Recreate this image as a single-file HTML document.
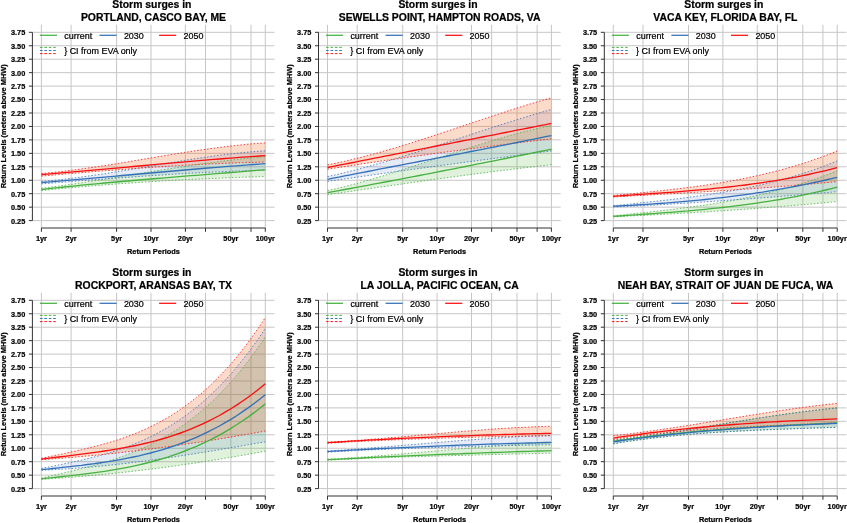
<!DOCTYPE html>
<html><head><meta charset="utf-8"><style>
html,body{margin:0;padding:0;background:#fff;width:847px;height:523px;overflow:hidden}
svg{display:block;will-change:transform}
text{font-family:"Liberation Sans",sans-serif;fill:#000;stroke:#000;stroke-width:0.22px}
.tl{font-size:7.35px;font-weight:bold}
.tl2{font-size:7.4px;font-weight:bold}
.tt{font-size:10.4px;font-weight:bold}
.lg{font-size:8.95px}
.gr{stroke:#c6c6c6;stroke-width:1;fill:none}
.ax{stroke:#333333;stroke-width:1;fill:none}
.ll{stroke-width:1.25}
.ld{stroke-width:0.95;stroke-dasharray:2.6 1.8}
.cl{fill:none;stroke-width:1.35}
.cd{fill:none;stroke-width:0.8;stroke-dasharray:1.5 1.85}
</style></head><body>
<svg width="847" height="523" viewBox="0 0 847 523">
<rect width="847" height="523" fill="#fff"/>
<g transform="translate(0,0)">
<line x1="41.4" y1="24.8" x2="41.4" y2="228" class="gr"/>
<line x1="71.08" y1="24.8" x2="71.08" y2="228" class="gr"/>
<line x1="116.58" y1="24.8" x2="116.58" y2="228" class="gr"/>
<line x1="150.99" y1="24.8" x2="150.99" y2="228" class="gr"/>
<line x1="185.4" y1="24.8" x2="185.4" y2="228" class="gr"/>
<line x1="205.53" y1="24.8" x2="205.53" y2="228" class="gr"/>
<line x1="230.9" y1="24.8" x2="230.9" y2="228" class="gr"/>
<line x1="251.03" y1="24.8" x2="251.03" y2="228" class="gr"/>
<line x1="265.31" y1="24.8" x2="265.31" y2="228" class="gr"/>
<line x1="32.4" y1="220.6" x2="274.6" y2="220.6" class="gr"/>
<line x1="32.4" y1="207.15" x2="274.6" y2="207.15" class="gr"/>
<line x1="32.4" y1="193.7" x2="274.6" y2="193.7" class="gr"/>
<line x1="32.4" y1="180.25" x2="274.6" y2="180.25" class="gr"/>
<line x1="32.4" y1="166.8" x2="274.6" y2="166.8" class="gr"/>
<line x1="32.4" y1="153.35" x2="274.6" y2="153.35" class="gr"/>
<line x1="32.4" y1="139.9" x2="274.6" y2="139.9" class="gr"/>
<line x1="32.4" y1="126.45" x2="274.6" y2="126.45" class="gr"/>
<line x1="32.4" y1="113" x2="274.6" y2="113" class="gr"/>
<line x1="32.4" y1="99.55" x2="274.6" y2="99.55" class="gr"/>
<line x1="32.4" y1="86.1" x2="274.6" y2="86.1" class="gr"/>
<line x1="32.4" y1="72.65" x2="274.6" y2="72.65" class="gr"/>
<line x1="32.4" y1="59.2" x2="274.6" y2="59.2" class="gr"/>
<line x1="32.4" y1="45.75" x2="274.6" y2="45.75" class="gr"/>
<line x1="32.4" y1="32.3" x2="274.6" y2="32.3" class="gr"/>
<path d="M41.4,188.3 L47.1,187.6 L52.9,186.8 L58.6,186.1 L64.4,185.3 L70.1,184.5 L75.8,183.6 L81.6,182.8 L87.3,181.9 L93.1,181.0 L98.8,180.1 L104.6,179.2 L110.3,178.3 L116.0,177.4 L121.8,176.4 L127.5,175.5 L133.3,174.5 L139.0,173.6 L144.7,172.7 L150.5,171.7 L156.2,170.8 L162.0,169.9 L167.7,169.0 L173.5,168.1 L179.2,167.2 L184.9,166.3 L190.7,165.5 L196.4,164.6 L202.2,163.8 L207.9,163.0 L213.6,162.3 L219.4,161.5 L225.1,160.8 L230.9,160.1 L236.6,159.4 L242.3,158.8 L248.1,158.2 L253.8,157.6 L259.6,157.1 L265.3,156.6 L265.3,176.5 L259.6,176.7 L253.8,176.9 L248.1,177.1 L242.3,177.3 L236.6,177.5 L230.9,177.7 L225.1,177.9 L219.4,178.2 L213.6,178.4 L207.9,178.6 L202.2,178.9 L196.4,179.2 L190.7,179.5 L184.9,179.7 L179.2,180.0 L173.5,180.4 L167.7,180.7 L162.0,181.0 L156.2,181.4 L150.5,181.7 L144.7,182.1 L139.0,182.4 L133.3,182.8 L127.5,183.2 L121.8,183.6 L116.0,184.0 L110.3,184.5 L104.6,184.9 L98.8,185.4 L93.1,185.8 L87.3,186.3 L81.6,186.8 L75.8,187.3 L70.1,187.8 L64.4,188.3 L58.6,188.9 L52.9,189.4 L47.1,190.0 L41.4,190.6Z" fill="rgba(80,180,50,0.17)" stroke="none"/>
<path d="M41.4,181.4 L47.1,180.9 L52.9,180.4 L58.6,179.8 L64.4,179.2 L70.1,178.5 L75.8,177.8 L81.6,177.0 L87.3,176.2 L93.1,175.4 L98.8,174.6 L104.6,173.7 L110.3,172.8 L116.0,171.9 L121.8,170.9 L127.5,170.0 L133.3,169.0 L139.0,168.0 L144.7,167.1 L150.5,166.1 L156.2,165.1 L162.0,164.1 L167.7,163.2 L173.5,162.2 L179.2,161.3 L184.9,160.3 L190.7,159.4 L196.4,158.6 L202.2,157.7 L207.9,156.9 L213.6,156.1 L219.4,155.3 L225.1,154.6 L230.9,153.9 L236.6,153.3 L242.3,152.7 L248.1,152.1 L253.8,151.6 L259.6,151.2 L265.3,150.8 L265.3,170.1 L259.6,170.3 L253.8,170.5 L248.1,170.6 L242.3,170.8 L236.6,171.1 L230.9,171.3 L225.1,171.5 L219.4,171.8 L213.6,172.1 L207.9,172.3 L202.2,172.6 L196.4,172.9 L190.7,173.2 L184.9,173.6 L179.2,173.9 L173.5,174.2 L167.7,174.6 L162.0,175.0 L156.2,175.3 L150.5,175.7 L144.7,176.1 L139.0,176.5 L133.3,176.9 L127.5,177.3 L121.8,177.7 L116.0,178.1 L110.3,178.5 L104.6,179.0 L98.8,179.4 L93.1,179.8 L87.3,180.3 L81.6,180.7 L75.8,181.2 L70.1,181.6 L64.4,182.1 L58.6,182.5 L52.9,183.0 L47.1,183.4 L41.4,183.9Z" fill="rgba(60,100,200,0.13)" stroke="none"/>
<path d="M41.4,173.5 L47.1,173.0 L52.9,172.4 L58.6,171.8 L64.4,171.1 L70.1,170.4 L75.8,169.7 L81.6,168.9 L87.3,168.1 L93.1,167.3 L98.8,166.5 L104.6,165.6 L110.3,164.7 L116.0,163.8 L121.8,162.8 L127.5,161.9 L133.3,160.9 L139.0,160.0 L144.7,159.0 L150.5,158.0 L156.2,157.1 L162.0,156.1 L167.7,155.2 L173.5,154.2 L179.2,153.3 L184.9,152.4 L190.7,151.5 L196.4,150.6 L202.2,149.8 L207.9,149.0 L213.6,148.2 L219.4,147.4 L225.1,146.7 L230.9,146.0 L236.6,145.4 L242.3,144.8 L248.1,144.2 L253.8,143.7 L259.6,143.3 L265.3,142.9 L265.3,162.1 L259.6,162.2 L253.8,162.4 L248.1,162.5 L242.3,162.7 L236.6,162.9 L230.9,163.1 L225.1,163.3 L219.4,163.6 L213.6,163.8 L207.9,164.1 L202.2,164.3 L196.4,164.6 L190.7,165.0 L184.9,165.3 L179.2,165.6 L173.5,165.9 L167.7,166.3 L162.0,166.7 L156.2,167.0 L150.5,167.4 L144.7,167.8 L139.0,168.2 L133.3,168.6 L127.5,169.1 L121.8,169.5 L116.0,169.9 L110.3,170.4 L104.6,170.8 L98.8,171.3 L93.1,171.7 L87.3,172.2 L81.6,172.7 L75.8,173.2 L70.1,173.6 L64.4,174.1 L58.6,174.6 L52.9,175.1 L47.1,175.6 L41.4,176.1Z" fill="rgba(240,90,20,0.22)" stroke="none"/>
<path d="M41.4,188.3 L47.1,187.6 L52.9,186.8 L58.6,186.1 L64.4,185.3 L70.1,184.5 L75.8,183.6 L81.6,182.8 L87.3,181.9 L93.1,181.0 L98.8,180.1 L104.6,179.2 L110.3,178.3 L116.0,177.4 L121.8,176.4 L127.5,175.5 L133.3,174.5 L139.0,173.6 L144.7,172.7 L150.5,171.7 L156.2,170.8 L162.0,169.9 L167.7,169.0 L173.5,168.1 L179.2,167.2 L184.9,166.3 L190.7,165.5 L196.4,164.6 L202.2,163.8 L207.9,163.0 L213.6,162.3 L219.4,161.5 L225.1,160.8 L230.9,160.1 L236.6,159.4 L242.3,158.8 L248.1,158.2 L253.8,157.6 L259.6,157.1 L265.3,156.6" stroke="#46b040" class="cd"/>
<path d="M41.4,190.6 L47.1,190.0 L52.9,189.4 L58.6,188.9 L64.4,188.3 L70.1,187.8 L75.8,187.3 L81.6,186.8 L87.3,186.3 L93.1,185.8 L98.8,185.4 L104.6,184.9 L110.3,184.5 L116.0,184.0 L121.8,183.6 L127.5,183.2 L133.3,182.8 L139.0,182.4 L144.7,182.1 L150.5,181.7 L156.2,181.4 L162.0,181.0 L167.7,180.7 L173.5,180.4 L179.2,180.0 L184.9,179.7 L190.7,179.5 L196.4,179.2 L202.2,178.9 L207.9,178.6 L213.6,178.4 L219.4,178.2 L225.1,177.9 L230.9,177.7 L236.6,177.5 L242.3,177.3 L248.1,177.1 L253.8,176.9 L259.6,176.7 L265.3,176.5" stroke="#46b040" class="cd"/>
<path d="M41.4,181.4 L47.1,180.9 L52.9,180.4 L58.6,179.8 L64.4,179.2 L70.1,178.5 L75.8,177.8 L81.6,177.0 L87.3,176.2 L93.1,175.4 L98.8,174.6 L104.6,173.7 L110.3,172.8 L116.0,171.9 L121.8,170.9 L127.5,170.0 L133.3,169.0 L139.0,168.0 L144.7,167.1 L150.5,166.1 L156.2,165.1 L162.0,164.1 L167.7,163.2 L173.5,162.2 L179.2,161.3 L184.9,160.3 L190.7,159.4 L196.4,158.6 L202.2,157.7 L207.9,156.9 L213.6,156.1 L219.4,155.3 L225.1,154.6 L230.9,153.9 L236.6,153.3 L242.3,152.7 L248.1,152.1 L253.8,151.6 L259.6,151.2 L265.3,150.8" stroke="#3370b8" class="cd"/>
<path d="M41.4,183.9 L47.1,183.4 L52.9,183.0 L58.6,182.5 L64.4,182.1 L70.1,181.6 L75.8,181.2 L81.6,180.7 L87.3,180.3 L93.1,179.8 L98.8,179.4 L104.6,179.0 L110.3,178.5 L116.0,178.1 L121.8,177.7 L127.5,177.3 L133.3,176.9 L139.0,176.5 L144.7,176.1 L150.5,175.7 L156.2,175.3 L162.0,175.0 L167.7,174.6 L173.5,174.2 L179.2,173.9 L184.9,173.6 L190.7,173.2 L196.4,172.9 L202.2,172.6 L207.9,172.3 L213.6,172.1 L219.4,171.8 L225.1,171.5 L230.9,171.3 L236.6,171.1 L242.3,170.8 L248.1,170.6 L253.8,170.5 L259.6,170.3 L265.3,170.1" stroke="#3370b8" class="cd"/>
<path d="M41.4,173.5 L47.1,173.0 L52.9,172.4 L58.6,171.8 L64.4,171.1 L70.1,170.4 L75.8,169.7 L81.6,168.9 L87.3,168.1 L93.1,167.3 L98.8,166.5 L104.6,165.6 L110.3,164.7 L116.0,163.8 L121.8,162.8 L127.5,161.9 L133.3,160.9 L139.0,160.0 L144.7,159.0 L150.5,158.0 L156.2,157.1 L162.0,156.1 L167.7,155.2 L173.5,154.2 L179.2,153.3 L184.9,152.4 L190.7,151.5 L196.4,150.6 L202.2,149.8 L207.9,149.0 L213.6,148.2 L219.4,147.4 L225.1,146.7 L230.9,146.0 L236.6,145.4 L242.3,144.8 L248.1,144.2 L253.8,143.7 L259.6,143.3 L265.3,142.9" stroke="#f81010" class="cd"/>
<path d="M41.4,176.1 L47.1,175.6 L52.9,175.1 L58.6,174.6 L64.4,174.1 L70.1,173.6 L75.8,173.2 L81.6,172.7 L87.3,172.2 L93.1,171.7 L98.8,171.3 L104.6,170.8 L110.3,170.4 L116.0,169.9 L121.8,169.5 L127.5,169.1 L133.3,168.6 L139.0,168.2 L144.7,167.8 L150.5,167.4 L156.2,167.0 L162.0,166.7 L167.7,166.3 L173.5,165.9 L179.2,165.6 L184.9,165.3 L190.7,165.0 L196.4,164.6 L202.2,164.3 L207.9,164.1 L213.6,163.8 L219.4,163.6 L225.1,163.3 L230.9,163.1 L236.6,162.9 L242.3,162.7 L248.1,162.5 L253.8,162.4 L259.6,162.2 L265.3,162.1" stroke="#f81010" class="cd"/>
<path d="M41.4,189.5 L47.1,188.9 L52.9,188.2 L58.6,187.6 L64.4,187.0 L70.1,186.4 L75.8,185.8 L81.6,185.2 L87.3,184.7 L93.1,184.1 L98.8,183.6 L104.6,183.0 L110.3,182.5 L116.0,182.0 L121.8,181.5 L127.5,181.0 L133.3,180.5 L139.0,180.0 L144.7,179.5 L150.5,179.0 L156.2,178.5 L162.0,178.1 L167.7,177.6 L173.5,177.1 L179.2,176.6 L184.9,176.2 L190.7,175.7 L196.4,175.3 L202.2,174.8 L207.9,174.4 L213.6,173.9 L219.4,173.4 L225.1,173.0 L230.9,172.5 L236.6,172.1 L242.3,171.6 L248.1,171.2 L253.8,170.7 L259.6,170.2 L265.3,169.8" stroke="#46b040" class="cl"/>
<path d="M41.4,182.5 L47.1,182.1 L52.9,181.6 L58.6,181.1 L64.4,180.6 L70.1,180.1 L75.8,179.6 L81.6,179.1 L87.3,178.6 L93.1,178.1 L98.8,177.6 L104.6,177.1 L110.3,176.6 L116.0,176.1 L121.8,175.5 L127.5,175.0 L133.3,174.5 L139.0,174.0 L144.7,173.5 L150.5,173.0 L156.2,172.5 L162.0,172.0 L167.7,171.5 L173.5,171.0 L179.2,170.5 L184.9,170.0 L190.7,169.5 L196.4,169.0 L202.2,168.5 L207.9,168.0 L213.6,167.6 L219.4,167.1 L225.1,166.6 L230.9,166.2 L236.6,165.8 L242.3,165.3 L248.1,164.9 L253.8,164.5 L259.6,164.1 L265.3,163.7" stroke="#3370b8" class="cl"/>
<path d="M41.4,174.6 L47.1,174.2 L52.9,173.7 L58.6,173.2 L64.4,172.7 L70.1,172.2 L75.8,171.7 L81.6,171.2 L87.3,170.7 L93.1,170.2 L98.8,169.7 L104.6,169.2 L110.3,168.6 L116.0,168.1 L121.8,167.6 L127.5,167.1 L133.3,166.5 L139.0,166.0 L144.7,165.5 L150.5,164.9 L156.2,164.4 L162.0,163.9 L167.7,163.4 L173.5,162.9 L179.2,162.3 L184.9,161.8 L190.7,161.3 L196.4,160.8 L202.2,160.4 L207.9,159.9 L213.6,159.4 L219.4,159.0 L225.1,158.5 L230.9,158.1 L236.6,157.6 L242.3,157.2 L248.1,156.8 L253.8,156.4 L259.6,156.0 L265.3,155.7" stroke="#f81010" class="cl"/>
<path d="M28.9,32.3H32.4V220.6H28.9" class="ax"/>
<line x1="28.9" y1="207.15" x2="32.4" y2="207.15" class="ax"/>
<line x1="28.9" y1="193.7" x2="32.4" y2="193.7" class="ax"/>
<line x1="28.9" y1="180.25" x2="32.4" y2="180.25" class="ax"/>
<line x1="28.9" y1="166.8" x2="32.4" y2="166.8" class="ax"/>
<line x1="28.9" y1="153.35" x2="32.4" y2="153.35" class="ax"/>
<line x1="28.9" y1="139.9" x2="32.4" y2="139.9" class="ax"/>
<line x1="28.9" y1="126.45" x2="32.4" y2="126.45" class="ax"/>
<line x1="28.9" y1="113" x2="32.4" y2="113" class="ax"/>
<line x1="28.9" y1="99.55" x2="32.4" y2="99.55" class="ax"/>
<line x1="28.9" y1="86.1" x2="32.4" y2="86.1" class="ax"/>
<line x1="28.9" y1="72.65" x2="32.4" y2="72.65" class="ax"/>
<line x1="28.9" y1="59.2" x2="32.4" y2="59.2" class="ax"/>
<line x1="28.9" y1="45.75" x2="32.4" y2="45.75" class="ax"/>
<path d="M41.4,231.8V228H265.31V231.8" class="ax"/>
<line x1="71.08" y1="228" x2="71.08" y2="231.8" class="ax"/>
<line x1="116.58" y1="228" x2="116.58" y2="231.8" class="ax"/>
<line x1="150.99" y1="228" x2="150.99" y2="231.8" class="ax"/>
<line x1="185.4" y1="228" x2="185.4" y2="231.8" class="ax"/>
<line x1="205.53" y1="228" x2="205.53" y2="231.8" class="ax"/>
<line x1="230.9" y1="228" x2="230.9" y2="231.8" class="ax"/>
<line x1="251.03" y1="228" x2="251.03" y2="231.8" class="ax"/>
<text x="25.3" y="223.5" class="tl" text-anchor="end">0.25</text>
<text x="25.3" y="210.05" class="tl" text-anchor="end">0.50</text>
<text x="25.3" y="196.6" class="tl" text-anchor="end">0.75</text>
<text x="25.3" y="183.15" class="tl" text-anchor="end">1.00</text>
<text x="25.3" y="169.7" class="tl" text-anchor="end">1.25</text>
<text x="25.3" y="156.25" class="tl" text-anchor="end">1.50</text>
<text x="25.3" y="142.8" class="tl" text-anchor="end">1.75</text>
<text x="25.3" y="129.35" class="tl" text-anchor="end">2.00</text>
<text x="25.3" y="115.9" class="tl" text-anchor="end">2.25</text>
<text x="25.3" y="102.45" class="tl" text-anchor="end">2.50</text>
<text x="25.3" y="89" class="tl" text-anchor="end">2.75</text>
<text x="25.3" y="75.55" class="tl" text-anchor="end">3.00</text>
<text x="25.3" y="62.1" class="tl" text-anchor="end">3.25</text>
<text x="25.3" y="48.65" class="tl" text-anchor="end">3.50</text>
<text x="25.3" y="35.2" class="tl" text-anchor="end">3.75</text>
<text x="41.4" y="240.6" class="tl" text-anchor="middle">1yr</text>
<text x="71.08" y="240.6" class="tl" text-anchor="middle">2yr</text>
<text x="116.58" y="240.6" class="tl" text-anchor="middle">5yr</text>
<text x="150.99" y="240.6" class="tl" text-anchor="middle">10yr</text>
<text x="185.4" y="240.6" class="tl" text-anchor="middle">20yr</text>
<text x="230.9" y="240.6" class="tl" text-anchor="middle">50yr</text>
<text x="265.31" y="240.6" class="tl" text-anchor="middle">100yr</text>
<text x="153.5" y="254.4" class="tl2" text-anchor="middle">Return Periods</text>
<text transform="translate(5.6,126.3) rotate(-90)" class="tl2" text-anchor="middle">Return Levels (meters above MHW)</text>
<text x="151.9" y="7.8" class="tt" text-anchor="middle">Storm surges in</text>
<text x="153.5" y="20.9" class="tt" text-anchor="middle">PORTLAND, CASCO BAY, ME</text>
<line x1="39.9" y1="35.3" x2="57" y2="35.3" stroke="#46b040" class="ll"/>
<text x="64.3" y="38.8" class="lg">current</text>
<line x1="99.5" y1="35.3" x2="116.6" y2="35.3" stroke="#3370b8" class="ll"/>
<text x="123.9" y="38.8" class="lg">2030</text>
<line x1="159.1" y1="35.3" x2="176.2" y2="35.3" stroke="#f81010" class="ll"/>
<text x="183.5" y="38.8" class="lg">2050</text>
<line x1="40.0" y1="47.4" x2="57.0" y2="47.4" stroke="#46b040" class="ld"/>
<line x1="40.0" y1="50.5" x2="57.0" y2="50.5" stroke="#3370b8" class="ld"/>
<line x1="40.0" y1="53.6" x2="57.0" y2="53.6" stroke="#f81010" class="ld"/>
<text x="64.2" y="53.9" class="lg">} CI from EVA only</text>
</g>
<g transform="translate(286.1,0)">
<line x1="41.4" y1="24.8" x2="41.4" y2="228" class="gr"/>
<line x1="71.08" y1="24.8" x2="71.08" y2="228" class="gr"/>
<line x1="116.58" y1="24.8" x2="116.58" y2="228" class="gr"/>
<line x1="150.99" y1="24.8" x2="150.99" y2="228" class="gr"/>
<line x1="185.4" y1="24.8" x2="185.4" y2="228" class="gr"/>
<line x1="205.53" y1="24.8" x2="205.53" y2="228" class="gr"/>
<line x1="230.9" y1="24.8" x2="230.9" y2="228" class="gr"/>
<line x1="251.03" y1="24.8" x2="251.03" y2="228" class="gr"/>
<line x1="265.31" y1="24.8" x2="265.31" y2="228" class="gr"/>
<line x1="32.4" y1="220.6" x2="274.6" y2="220.6" class="gr"/>
<line x1="32.4" y1="207.15" x2="274.6" y2="207.15" class="gr"/>
<line x1="32.4" y1="193.7" x2="274.6" y2="193.7" class="gr"/>
<line x1="32.4" y1="180.25" x2="274.6" y2="180.25" class="gr"/>
<line x1="32.4" y1="166.8" x2="274.6" y2="166.8" class="gr"/>
<line x1="32.4" y1="153.35" x2="274.6" y2="153.35" class="gr"/>
<line x1="32.4" y1="139.9" x2="274.6" y2="139.9" class="gr"/>
<line x1="32.4" y1="126.45" x2="274.6" y2="126.45" class="gr"/>
<line x1="32.4" y1="113" x2="274.6" y2="113" class="gr"/>
<line x1="32.4" y1="99.55" x2="274.6" y2="99.55" class="gr"/>
<line x1="32.4" y1="86.1" x2="274.6" y2="86.1" class="gr"/>
<line x1="32.4" y1="72.65" x2="274.6" y2="72.65" class="gr"/>
<line x1="32.4" y1="59.2" x2="274.6" y2="59.2" class="gr"/>
<line x1="32.4" y1="45.75" x2="274.6" y2="45.75" class="gr"/>
<line x1="32.4" y1="32.3" x2="274.6" y2="32.3" class="gr"/>
<path d="M41.4,190.6 L47.1,189.3 L52.9,188.0 L58.6,186.5 L64.4,185.1 L70.1,183.6 L75.8,182.0 L81.6,180.4 L87.3,178.7 L93.1,177.0 L98.8,175.3 L104.6,173.5 L110.3,171.7 L116.0,169.9 L121.8,168.0 L127.5,166.1 L133.3,164.3 L139.0,162.4 L144.7,160.5 L150.5,158.6 L156.2,156.7 L162.0,154.8 L167.7,152.9 L173.5,151.0 L179.2,149.1 L184.9,147.3 L190.7,145.5 L196.4,143.7 L202.2,141.9 L207.9,140.2 L213.6,138.5 L219.4,136.8 L225.1,135.2 L230.9,133.6 L236.6,132.1 L242.3,130.7 L248.1,129.3 L253.8,127.9 L259.6,126.6 L265.3,125.4 L265.3,164.7 L259.6,165.4 L253.8,166.0 L248.1,166.7 L242.3,167.3 L236.6,168.0 L230.9,168.7 L225.1,169.4 L219.4,170.1 L213.6,170.8 L207.9,171.5 L202.2,172.2 L196.4,173.0 L190.7,173.7 L184.9,174.5 L179.2,175.2 L173.5,176.0 L167.7,176.8 L162.0,177.6 L156.2,178.3 L150.5,179.1 L144.7,179.9 L139.0,180.7 L133.3,181.5 L127.5,182.3 L121.8,183.1 L116.0,184.0 L110.3,184.8 L104.6,185.6 L98.8,186.4 L93.1,187.2 L87.3,188.1 L81.6,188.9 L75.8,189.7 L70.1,190.5 L64.4,191.4 L58.6,192.2 L52.9,193.0 L47.1,193.8 L41.4,194.7Z" fill="rgba(80,180,50,0.17)" stroke="none"/>
<path d="M41.4,176.6 L47.1,175.3 L52.9,174.0 L58.6,172.6 L64.4,171.2 L70.1,169.7 L75.8,168.2 L81.6,166.6 L87.3,165.1 L93.1,163.4 L98.8,161.8 L104.6,160.1 L110.3,158.4 L116.0,156.6 L121.8,154.9 L127.5,153.1 L133.3,151.3 L139.0,149.4 L144.7,147.6 L150.5,145.7 L156.2,143.9 L162.0,142.0 L167.7,140.1 L173.5,138.2 L179.2,136.4 L184.9,134.5 L190.7,132.6 L196.4,130.7 L202.2,128.8 L207.9,127.0 L213.6,125.1 L219.4,123.3 L225.1,121.5 L230.9,119.7 L236.6,117.9 L242.3,116.1 L248.1,114.4 L253.8,112.7 L259.6,111.0 L265.3,109.4 L265.3,150.9 L259.6,151.7 L253.8,152.4 L248.1,153.2 L242.3,153.9 L236.6,154.6 L230.9,155.4 L225.1,156.1 L219.4,156.9 L213.6,157.7 L207.9,158.4 L202.2,159.2 L196.4,159.9 L190.7,160.7 L184.9,161.5 L179.2,162.2 L173.5,163.0 L167.7,163.8 L162.0,164.6 L156.2,165.3 L150.5,166.1 L144.7,166.9 L139.0,167.7 L133.3,168.5 L127.5,169.2 L121.8,170.0 L116.0,170.8 L110.3,171.6 L104.6,172.4 L98.8,173.2 L93.1,174.0 L87.3,174.8 L81.6,175.6 L75.8,176.5 L70.1,177.3 L64.4,178.1 L58.6,178.9 L52.9,179.7 L47.1,180.6 L41.4,181.4Z" fill="rgba(60,100,200,0.13)" stroke="none"/>
<path d="M41.4,164.9 L47.1,163.8 L52.9,162.5 L58.6,161.3 L64.4,159.9 L70.1,158.5 L75.8,157.1 L81.6,155.6 L87.3,154.1 L93.1,152.5 L98.8,150.8 L104.6,149.2 L110.3,147.5 L116.0,145.7 L121.8,143.9 L127.5,142.1 L133.3,140.3 L139.0,138.5 L144.7,136.6 L150.5,134.7 L156.2,132.8 L162.0,130.9 L167.7,129.0 L173.5,127.1 L179.2,125.1 L184.9,123.2 L190.7,121.3 L196.4,119.4 L202.2,117.4 L207.9,115.5 L213.6,113.7 L219.4,111.8 L225.1,109.9 L230.9,108.1 L236.6,106.3 L242.3,104.5 L248.1,102.8 L253.8,101.1 L259.6,99.4 L265.3,97.8 L265.3,138.9 L259.6,139.6 L253.8,140.2 L248.1,140.9 L242.3,141.6 L236.6,142.3 L230.9,143.0 L225.1,143.7 L219.4,144.4 L213.6,145.1 L207.9,145.8 L202.2,146.5 L196.4,147.3 L190.7,148.0 L184.9,148.7 L179.2,149.5 L173.5,150.2 L167.7,151.0 L162.0,151.7 L156.2,152.5 L150.5,153.3 L144.7,154.1 L139.0,154.9 L133.3,155.7 L127.5,156.5 L121.8,157.3 L116.0,158.1 L110.3,158.9 L104.6,159.7 L98.8,160.5 L93.1,161.4 L87.3,162.2 L81.6,163.1 L75.8,163.9 L70.1,164.8 L64.4,165.7 L58.6,166.6 L52.9,167.4 L47.1,168.3 L41.4,169.2Z" fill="rgba(240,90,20,0.22)" stroke="none"/>
<path d="M41.4,190.6 L47.1,189.3 L52.9,188.0 L58.6,186.5 L64.4,185.1 L70.1,183.6 L75.8,182.0 L81.6,180.4 L87.3,178.7 L93.1,177.0 L98.8,175.3 L104.6,173.5 L110.3,171.7 L116.0,169.9 L121.8,168.0 L127.5,166.1 L133.3,164.3 L139.0,162.4 L144.7,160.5 L150.5,158.6 L156.2,156.7 L162.0,154.8 L167.7,152.9 L173.5,151.0 L179.2,149.1 L184.9,147.3 L190.7,145.5 L196.4,143.7 L202.2,141.9 L207.9,140.2 L213.6,138.5 L219.4,136.8 L225.1,135.2 L230.9,133.6 L236.6,132.1 L242.3,130.7 L248.1,129.3 L253.8,127.9 L259.6,126.6 L265.3,125.4" stroke="#46b040" class="cd"/>
<path d="M41.4,194.7 L47.1,193.8 L52.9,193.0 L58.6,192.2 L64.4,191.4 L70.1,190.5 L75.8,189.7 L81.6,188.9 L87.3,188.1 L93.1,187.2 L98.8,186.4 L104.6,185.6 L110.3,184.8 L116.0,184.0 L121.8,183.1 L127.5,182.3 L133.3,181.5 L139.0,180.7 L144.7,179.9 L150.5,179.1 L156.2,178.3 L162.0,177.6 L167.7,176.8 L173.5,176.0 L179.2,175.2 L184.9,174.5 L190.7,173.7 L196.4,173.0 L202.2,172.2 L207.9,171.5 L213.6,170.8 L219.4,170.1 L225.1,169.4 L230.9,168.7 L236.6,168.0 L242.3,167.3 L248.1,166.7 L253.8,166.0 L259.6,165.4 L265.3,164.7" stroke="#46b040" class="cd"/>
<path d="M41.4,176.6 L47.1,175.3 L52.9,174.0 L58.6,172.6 L64.4,171.2 L70.1,169.7 L75.8,168.2 L81.6,166.6 L87.3,165.1 L93.1,163.4 L98.8,161.8 L104.6,160.1 L110.3,158.4 L116.0,156.6 L121.8,154.9 L127.5,153.1 L133.3,151.3 L139.0,149.4 L144.7,147.6 L150.5,145.7 L156.2,143.9 L162.0,142.0 L167.7,140.1 L173.5,138.2 L179.2,136.4 L184.9,134.5 L190.7,132.6 L196.4,130.7 L202.2,128.8 L207.9,127.0 L213.6,125.1 L219.4,123.3 L225.1,121.5 L230.9,119.7 L236.6,117.9 L242.3,116.1 L248.1,114.4 L253.8,112.7 L259.6,111.0 L265.3,109.4" stroke="#3370b8" class="cd"/>
<path d="M41.4,181.4 L47.1,180.6 L52.9,179.7 L58.6,178.9 L64.4,178.1 L70.1,177.3 L75.8,176.5 L81.6,175.6 L87.3,174.8 L93.1,174.0 L98.8,173.2 L104.6,172.4 L110.3,171.6 L116.0,170.8 L121.8,170.0 L127.5,169.2 L133.3,168.5 L139.0,167.7 L144.7,166.9 L150.5,166.1 L156.2,165.3 L162.0,164.6 L167.7,163.8 L173.5,163.0 L179.2,162.2 L184.9,161.5 L190.7,160.7 L196.4,159.9 L202.2,159.2 L207.9,158.4 L213.6,157.7 L219.4,156.9 L225.1,156.1 L230.9,155.4 L236.6,154.6 L242.3,153.9 L248.1,153.2 L253.8,152.4 L259.6,151.7 L265.3,150.9" stroke="#3370b8" class="cd"/>
<path d="M41.4,164.9 L47.1,163.8 L52.9,162.5 L58.6,161.3 L64.4,159.9 L70.1,158.5 L75.8,157.1 L81.6,155.6 L87.3,154.1 L93.1,152.5 L98.8,150.8 L104.6,149.2 L110.3,147.5 L116.0,145.7 L121.8,143.9 L127.5,142.1 L133.3,140.3 L139.0,138.5 L144.7,136.6 L150.5,134.7 L156.2,132.8 L162.0,130.9 L167.7,129.0 L173.5,127.1 L179.2,125.1 L184.9,123.2 L190.7,121.3 L196.4,119.4 L202.2,117.4 L207.9,115.5 L213.6,113.7 L219.4,111.8 L225.1,109.9 L230.9,108.1 L236.6,106.3 L242.3,104.5 L248.1,102.8 L253.8,101.1 L259.6,99.4 L265.3,97.8" stroke="#f81010" class="cd"/>
<path d="M41.4,169.2 L47.1,168.3 L52.9,167.4 L58.6,166.6 L64.4,165.7 L70.1,164.8 L75.8,163.9 L81.6,163.1 L87.3,162.2 L93.1,161.4 L98.8,160.5 L104.6,159.7 L110.3,158.9 L116.0,158.1 L121.8,157.3 L127.5,156.5 L133.3,155.7 L139.0,154.9 L144.7,154.1 L150.5,153.3 L156.2,152.5 L162.0,151.7 L167.7,151.0 L173.5,150.2 L179.2,149.5 L184.9,148.7 L190.7,148.0 L196.4,147.3 L202.2,146.5 L207.9,145.8 L213.6,145.1 L219.4,144.4 L225.1,143.7 L230.9,143.0 L236.6,142.3 L242.3,141.6 L248.1,140.9 L253.8,140.2 L259.6,139.6 L265.3,138.9" stroke="#f81010" class="cd"/>
<path d="M41.4,192.7 L47.1,191.6 L52.9,190.6 L58.6,189.5 L64.4,188.5 L70.1,187.4 L75.8,186.3 L81.6,185.3 L87.3,184.2 L93.1,183.1 L98.8,182.0 L104.6,181.0 L110.3,179.9 L116.0,178.8 L121.8,177.7 L127.5,176.6 L133.3,175.5 L139.0,174.4 L144.7,173.3 L150.5,172.1 L156.2,171.0 L162.0,169.9 L167.7,168.8 L173.5,167.6 L179.2,166.5 L184.9,165.4 L190.7,164.2 L196.4,163.1 L202.2,161.9 L207.9,160.8 L213.6,159.6 L219.4,158.5 L225.1,157.3 L230.9,156.2 L236.6,155.0 L242.3,153.8 L248.1,152.7 L253.8,151.5 L259.6,150.3 L265.3,149.1" stroke="#46b040" class="cl"/>
<path d="M41.4,179.3 L47.1,178.2 L52.9,177.1 L58.6,175.9 L64.4,174.8 L70.1,173.7 L75.8,172.6 L81.6,171.5 L87.3,170.3 L93.1,169.2 L98.8,168.1 L104.6,167.0 L110.3,165.9 L116.0,164.8 L121.8,163.7 L127.5,162.6 L133.3,161.5 L139.0,160.4 L144.7,159.3 L150.5,158.2 L156.2,157.1 L162.0,156.0 L167.7,154.9 L173.5,153.8 L179.2,152.7 L184.9,151.5 L190.7,150.4 L196.4,149.3 L202.2,148.2 L207.9,147.1 L213.6,145.9 L219.4,144.8 L225.1,143.7 L230.9,142.5 L236.6,141.4 L242.3,140.2 L248.1,139.1 L253.8,137.9 L259.6,136.7 L265.3,135.6" stroke="#3370b8" class="cl"/>
<path d="M41.4,167.5 L47.1,166.4 L52.9,165.2 L58.6,164.1 L64.4,163.0 L70.1,161.8 L75.8,160.7 L81.6,159.6 L87.3,158.4 L93.1,157.3 L98.8,156.2 L104.6,155.1 L110.3,153.9 L116.0,152.8 L121.8,151.7 L127.5,150.5 L133.3,149.4 L139.0,148.3 L144.7,147.2 L150.5,146.0 L156.2,144.9 L162.0,143.8 L167.7,142.7 L173.5,141.5 L179.2,140.4 L184.9,139.3 L190.7,138.1 L196.4,137.0 L202.2,135.9 L207.9,134.8 L213.6,133.6 L219.4,132.5 L225.1,131.4 L230.9,130.2 L236.6,129.1 L242.3,128.0 L248.1,126.8 L253.8,125.7 L259.6,124.6 L265.3,123.4" stroke="#f81010" class="cl"/>
<path d="M28.9,32.3H32.4V220.6H28.9" class="ax"/>
<line x1="28.9" y1="207.15" x2="32.4" y2="207.15" class="ax"/>
<line x1="28.9" y1="193.7" x2="32.4" y2="193.7" class="ax"/>
<line x1="28.9" y1="180.25" x2="32.4" y2="180.25" class="ax"/>
<line x1="28.9" y1="166.8" x2="32.4" y2="166.8" class="ax"/>
<line x1="28.9" y1="153.35" x2="32.4" y2="153.35" class="ax"/>
<line x1="28.9" y1="139.9" x2="32.4" y2="139.9" class="ax"/>
<line x1="28.9" y1="126.45" x2="32.4" y2="126.45" class="ax"/>
<line x1="28.9" y1="113" x2="32.4" y2="113" class="ax"/>
<line x1="28.9" y1="99.55" x2="32.4" y2="99.55" class="ax"/>
<line x1="28.9" y1="86.1" x2="32.4" y2="86.1" class="ax"/>
<line x1="28.9" y1="72.65" x2="32.4" y2="72.65" class="ax"/>
<line x1="28.9" y1="59.2" x2="32.4" y2="59.2" class="ax"/>
<line x1="28.9" y1="45.75" x2="32.4" y2="45.75" class="ax"/>
<path d="M41.4,231.8V228H265.31V231.8" class="ax"/>
<line x1="71.08" y1="228" x2="71.08" y2="231.8" class="ax"/>
<line x1="116.58" y1="228" x2="116.58" y2="231.8" class="ax"/>
<line x1="150.99" y1="228" x2="150.99" y2="231.8" class="ax"/>
<line x1="185.4" y1="228" x2="185.4" y2="231.8" class="ax"/>
<line x1="205.53" y1="228" x2="205.53" y2="231.8" class="ax"/>
<line x1="230.9" y1="228" x2="230.9" y2="231.8" class="ax"/>
<line x1="251.03" y1="228" x2="251.03" y2="231.8" class="ax"/>
<text x="25.3" y="223.5" class="tl" text-anchor="end">0.25</text>
<text x="25.3" y="210.05" class="tl" text-anchor="end">0.50</text>
<text x="25.3" y="196.6" class="tl" text-anchor="end">0.75</text>
<text x="25.3" y="183.15" class="tl" text-anchor="end">1.00</text>
<text x="25.3" y="169.7" class="tl" text-anchor="end">1.25</text>
<text x="25.3" y="156.25" class="tl" text-anchor="end">1.50</text>
<text x="25.3" y="142.8" class="tl" text-anchor="end">1.75</text>
<text x="25.3" y="129.35" class="tl" text-anchor="end">2.00</text>
<text x="25.3" y="115.9" class="tl" text-anchor="end">2.25</text>
<text x="25.3" y="102.45" class="tl" text-anchor="end">2.50</text>
<text x="25.3" y="89" class="tl" text-anchor="end">2.75</text>
<text x="25.3" y="75.55" class="tl" text-anchor="end">3.00</text>
<text x="25.3" y="62.1" class="tl" text-anchor="end">3.25</text>
<text x="25.3" y="48.65" class="tl" text-anchor="end">3.50</text>
<text x="25.3" y="35.2" class="tl" text-anchor="end">3.75</text>
<text x="41.4" y="240.6" class="tl" text-anchor="middle">1yr</text>
<text x="71.08" y="240.6" class="tl" text-anchor="middle">2yr</text>
<text x="116.58" y="240.6" class="tl" text-anchor="middle">5yr</text>
<text x="150.99" y="240.6" class="tl" text-anchor="middle">10yr</text>
<text x="185.4" y="240.6" class="tl" text-anchor="middle">20yr</text>
<text x="230.9" y="240.6" class="tl" text-anchor="middle">50yr</text>
<text x="265.31" y="240.6" class="tl" text-anchor="middle">100yr</text>
<text x="153.5" y="254.4" class="tl2" text-anchor="middle">Return Periods</text>
<text transform="translate(5.6,126.3) rotate(-90)" class="tl2" text-anchor="middle">Return Levels (meters above MHW)</text>
<text x="151.9" y="7.8" class="tt" text-anchor="middle">Storm surges in</text>
<text x="153.5" y="20.9" class="tt" text-anchor="middle">SEWELLS POINT, HAMPTON ROADS, VA</text>
<line x1="39.9" y1="35.3" x2="57" y2="35.3" stroke="#46b040" class="ll"/>
<text x="64.3" y="38.8" class="lg">current</text>
<line x1="99.5" y1="35.3" x2="116.6" y2="35.3" stroke="#3370b8" class="ll"/>
<text x="123.9" y="38.8" class="lg">2030</text>
<line x1="159.1" y1="35.3" x2="176.2" y2="35.3" stroke="#f81010" class="ll"/>
<text x="183.5" y="38.8" class="lg">2050</text>
<line x1="40.0" y1="47.4" x2="57.0" y2="47.4" stroke="#46b040" class="ld"/>
<line x1="40.0" y1="50.5" x2="57.0" y2="50.5" stroke="#3370b8" class="ld"/>
<line x1="40.0" y1="53.6" x2="57.0" y2="53.6" stroke="#f81010" class="ld"/>
<text x="64.2" y="53.9" class="lg">} CI from EVA only</text>
</g>
<g transform="translate(571.9,0)">
<line x1="41.4" y1="24.8" x2="41.4" y2="228" class="gr"/>
<line x1="71.08" y1="24.8" x2="71.08" y2="228" class="gr"/>
<line x1="116.58" y1="24.8" x2="116.58" y2="228" class="gr"/>
<line x1="150.99" y1="24.8" x2="150.99" y2="228" class="gr"/>
<line x1="185.4" y1="24.8" x2="185.4" y2="228" class="gr"/>
<line x1="205.53" y1="24.8" x2="205.53" y2="228" class="gr"/>
<line x1="230.9" y1="24.8" x2="230.9" y2="228" class="gr"/>
<line x1="251.03" y1="24.8" x2="251.03" y2="228" class="gr"/>
<line x1="265.31" y1="24.8" x2="265.31" y2="228" class="gr"/>
<line x1="32.4" y1="220.6" x2="274.6" y2="220.6" class="gr"/>
<line x1="32.4" y1="207.15" x2="274.6" y2="207.15" class="gr"/>
<line x1="32.4" y1="193.7" x2="274.6" y2="193.7" class="gr"/>
<line x1="32.4" y1="180.25" x2="274.6" y2="180.25" class="gr"/>
<line x1="32.4" y1="166.8" x2="274.6" y2="166.8" class="gr"/>
<line x1="32.4" y1="153.35" x2="274.6" y2="153.35" class="gr"/>
<line x1="32.4" y1="139.9" x2="274.6" y2="139.9" class="gr"/>
<line x1="32.4" y1="126.45" x2="274.6" y2="126.45" class="gr"/>
<line x1="32.4" y1="113" x2="274.6" y2="113" class="gr"/>
<line x1="32.4" y1="99.55" x2="274.6" y2="99.55" class="gr"/>
<line x1="32.4" y1="86.1" x2="274.6" y2="86.1" class="gr"/>
<line x1="32.4" y1="72.65" x2="274.6" y2="72.65" class="gr"/>
<line x1="32.4" y1="59.2" x2="274.6" y2="59.2" class="gr"/>
<line x1="32.4" y1="45.75" x2="274.6" y2="45.75" class="gr"/>
<line x1="32.4" y1="32.3" x2="274.6" y2="32.3" class="gr"/>
<path d="M41.4,215.8 L47.1,215.2 L52.9,214.6 L58.6,214.0 L64.4,213.4 L70.1,212.8 L75.8,212.2 L81.6,211.6 L87.3,210.9 L93.1,210.2 L98.8,209.6 L104.6,208.9 L110.3,208.1 L116.0,207.4 L121.8,206.6 L127.5,205.8 L133.3,205.0 L139.0,204.1 L144.7,203.2 L150.5,202.2 L156.2,201.2 L162.0,200.2 L167.7,199.1 L173.5,197.9 L179.2,196.7 L184.9,195.5 L190.7,194.2 L196.4,192.8 L202.2,191.4 L207.9,189.9 L213.6,188.3 L219.4,186.7 L225.1,185.0 L230.9,183.2 L236.6,181.3 L242.3,179.4 L248.1,177.4 L253.8,175.3 L259.6,173.1 L265.3,170.8 L265.3,201.6 L259.6,202.1 L253.8,202.7 L248.1,203.2 L242.3,203.7 L236.6,204.2 L230.9,204.7 L225.1,205.2 L219.4,205.7 L213.6,206.1 L207.9,206.6 L202.2,207.0 L196.4,207.5 L190.7,207.9 L184.9,208.4 L179.2,208.8 L173.5,209.2 L167.7,209.6 L162.0,210.0 L156.2,210.4 L150.5,210.8 L144.7,211.1 L139.0,211.5 L133.3,211.9 L127.5,212.2 L121.8,212.6 L116.0,212.9 L110.3,213.2 L104.6,213.6 L98.8,213.9 L93.1,214.2 L87.3,214.5 L81.6,214.8 L75.8,215.2 L70.1,215.5 L64.4,215.7 L58.6,216.0 L52.9,216.3 L47.1,216.6 L41.4,216.9Z" fill="rgba(80,180,50,0.17)" stroke="none"/>
<path d="M41.4,205.8 L47.1,205.2 L52.9,204.6 L58.6,204.0 L64.4,203.4 L70.1,202.7 L75.8,202.1 L81.6,201.5 L87.3,200.9 L93.1,200.2 L98.8,199.6 L104.6,198.9 L110.3,198.2 L116.0,197.4 L121.8,196.7 L127.5,195.9 L133.3,195.1 L139.0,194.2 L144.7,193.3 L150.5,192.4 L156.2,191.4 L162.0,190.4 L167.7,189.3 L173.5,188.2 L179.2,187.0 L184.9,185.8 L190.7,184.5 L196.4,183.1 L202.2,181.7 L207.9,180.2 L213.6,178.6 L219.4,177.0 L225.1,175.3 L230.9,173.5 L236.6,171.6 L242.3,169.7 L248.1,167.7 L253.8,165.5 L259.6,163.3 L265.3,161.0 L265.3,191.7 L259.6,192.2 L253.8,192.7 L248.1,193.2 L242.3,193.7 L236.6,194.1 L230.9,194.6 L225.1,195.1 L219.4,195.5 L213.6,196.0 L207.9,196.5 L202.2,196.9 L196.4,197.4 L190.7,197.8 L184.9,198.2 L179.2,198.7 L173.5,199.1 L167.7,199.5 L162.0,199.9 L156.2,200.3 L150.5,200.7 L144.7,201.1 L139.0,201.5 L133.3,201.9 L127.5,202.3 L121.8,202.7 L116.0,203.0 L110.3,203.4 L104.6,203.7 L98.8,204.1 L93.1,204.4 L87.3,204.8 L81.6,205.1 L75.8,205.4 L70.1,205.7 L64.4,206.0 L58.6,206.3 L52.9,206.6 L47.1,206.8 L41.4,207.1Z" fill="rgba(60,100,200,0.13)" stroke="none"/>
<path d="M41.4,195.4 L47.1,194.9 L52.9,194.4 L58.6,193.8 L64.4,193.3 L70.1,192.7 L75.8,192.1 L81.6,191.5 L87.3,190.9 L93.1,190.3 L98.8,189.6 L104.6,189.0 L110.3,188.3 L116.0,187.5 L121.8,186.8 L127.5,186.0 L133.3,185.2 L139.0,184.3 L144.7,183.4 L150.5,182.5 L156.2,181.5 L162.0,180.4 L167.7,179.4 L173.5,178.2 L179.2,177.0 L184.9,175.8 L190.7,174.5 L196.4,173.1 L202.2,171.7 L207.9,170.2 L213.6,168.6 L219.4,167.0 L225.1,165.3 L230.9,163.5 L236.6,161.6 L242.3,159.7 L248.1,157.6 L253.8,155.5 L259.6,153.3 L265.3,151.0 L265.3,181.6 L259.6,182.1 L253.8,182.7 L248.1,183.2 L242.3,183.7 L236.6,184.3 L230.9,184.8 L225.1,185.2 L219.4,185.7 L213.6,186.2 L207.9,186.6 L202.2,187.1 L196.4,187.5 L190.7,187.9 L184.9,188.3 L179.2,188.7 L173.5,189.1 L167.7,189.5 L162.0,189.9 L156.2,190.3 L150.5,190.7 L144.7,191.0 L139.0,191.4 L133.3,191.7 L127.5,192.1 L121.8,192.4 L116.0,192.8 L110.3,193.1 L104.6,193.4 L98.8,193.8 L93.1,194.1 L87.3,194.4 L81.6,194.7 L75.8,195.1 L70.1,195.4 L64.4,195.7 L58.6,196.0 L52.9,196.4 L47.1,196.7 L41.4,197.0Z" fill="rgba(240,90,20,0.22)" stroke="none"/>
<path d="M41.4,215.8 L47.1,215.2 L52.9,214.6 L58.6,214.0 L64.4,213.4 L70.1,212.8 L75.8,212.2 L81.6,211.6 L87.3,210.9 L93.1,210.2 L98.8,209.6 L104.6,208.9 L110.3,208.1 L116.0,207.4 L121.8,206.6 L127.5,205.8 L133.3,205.0 L139.0,204.1 L144.7,203.2 L150.5,202.2 L156.2,201.2 L162.0,200.2 L167.7,199.1 L173.5,197.9 L179.2,196.7 L184.9,195.5 L190.7,194.2 L196.4,192.8 L202.2,191.4 L207.9,189.9 L213.6,188.3 L219.4,186.7 L225.1,185.0 L230.9,183.2 L236.6,181.3 L242.3,179.4 L248.1,177.4 L253.8,175.3 L259.6,173.1 L265.3,170.8" stroke="#46b040" class="cd"/>
<path d="M41.4,216.9 L47.1,216.6 L52.9,216.3 L58.6,216.0 L64.4,215.7 L70.1,215.5 L75.8,215.2 L81.6,214.8 L87.3,214.5 L93.1,214.2 L98.8,213.9 L104.6,213.6 L110.3,213.2 L116.0,212.9 L121.8,212.6 L127.5,212.2 L133.3,211.9 L139.0,211.5 L144.7,211.1 L150.5,210.8 L156.2,210.4 L162.0,210.0 L167.7,209.6 L173.5,209.2 L179.2,208.8 L184.9,208.4 L190.7,207.9 L196.4,207.5 L202.2,207.0 L207.9,206.6 L213.6,206.1 L219.4,205.7 L225.1,205.2 L230.9,204.7 L236.6,204.2 L242.3,203.7 L248.1,203.2 L253.8,202.7 L259.6,202.1 L265.3,201.6" stroke="#46b040" class="cd"/>
<path d="M41.4,205.8 L47.1,205.2 L52.9,204.6 L58.6,204.0 L64.4,203.4 L70.1,202.7 L75.8,202.1 L81.6,201.5 L87.3,200.9 L93.1,200.2 L98.8,199.6 L104.6,198.9 L110.3,198.2 L116.0,197.4 L121.8,196.7 L127.5,195.9 L133.3,195.1 L139.0,194.2 L144.7,193.3 L150.5,192.4 L156.2,191.4 L162.0,190.4 L167.7,189.3 L173.5,188.2 L179.2,187.0 L184.9,185.8 L190.7,184.5 L196.4,183.1 L202.2,181.7 L207.9,180.2 L213.6,178.6 L219.4,177.0 L225.1,175.3 L230.9,173.5 L236.6,171.6 L242.3,169.7 L248.1,167.7 L253.8,165.5 L259.6,163.3 L265.3,161.0" stroke="#3370b8" class="cd"/>
<path d="M41.4,207.1 L47.1,206.8 L52.9,206.6 L58.6,206.3 L64.4,206.0 L70.1,205.7 L75.8,205.4 L81.6,205.1 L87.3,204.8 L93.1,204.4 L98.8,204.1 L104.6,203.7 L110.3,203.4 L116.0,203.0 L121.8,202.7 L127.5,202.3 L133.3,201.9 L139.0,201.5 L144.7,201.1 L150.5,200.7 L156.2,200.3 L162.0,199.9 L167.7,199.5 L173.5,199.1 L179.2,198.7 L184.9,198.2 L190.7,197.8 L196.4,197.4 L202.2,196.9 L207.9,196.5 L213.6,196.0 L219.4,195.5 L225.1,195.1 L230.9,194.6 L236.6,194.1 L242.3,193.7 L248.1,193.2 L253.8,192.7 L259.6,192.2 L265.3,191.7" stroke="#3370b8" class="cd"/>
<path d="M41.4,195.4 L47.1,194.9 L52.9,194.4 L58.6,193.8 L64.4,193.3 L70.1,192.7 L75.8,192.1 L81.6,191.5 L87.3,190.9 L93.1,190.3 L98.8,189.6 L104.6,189.0 L110.3,188.3 L116.0,187.5 L121.8,186.8 L127.5,186.0 L133.3,185.2 L139.0,184.3 L144.7,183.4 L150.5,182.5 L156.2,181.5 L162.0,180.4 L167.7,179.4 L173.5,178.2 L179.2,177.0 L184.9,175.8 L190.7,174.5 L196.4,173.1 L202.2,171.7 L207.9,170.2 L213.6,168.6 L219.4,167.0 L225.1,165.3 L230.9,163.5 L236.6,161.6 L242.3,159.7 L248.1,157.6 L253.8,155.5 L259.6,153.3 L265.3,151.0" stroke="#f81010" class="cd"/>
<path d="M41.4,197.0 L47.1,196.7 L52.9,196.4 L58.6,196.0 L64.4,195.7 L70.1,195.4 L75.8,195.1 L81.6,194.7 L87.3,194.4 L93.1,194.1 L98.8,193.8 L104.6,193.4 L110.3,193.1 L116.0,192.8 L121.8,192.4 L127.5,192.1 L133.3,191.7 L139.0,191.4 L144.7,191.0 L150.5,190.7 L156.2,190.3 L162.0,189.9 L167.7,189.5 L173.5,189.1 L179.2,188.7 L184.9,188.3 L190.7,187.9 L196.4,187.5 L202.2,187.1 L207.9,186.6 L213.6,186.2 L219.4,185.7 L225.1,185.2 L230.9,184.8 L236.6,184.3 L242.3,183.7 L248.1,183.2 L253.8,182.7 L259.6,182.1 L265.3,181.6" stroke="#f81010" class="cd"/>
<path d="M41.4,216.4 L47.1,216.0 L52.9,215.6 L58.6,215.2 L64.4,214.8 L70.1,214.4 L75.8,214.0 L81.6,213.6 L87.3,213.2 L93.1,212.7 L98.8,212.3 L104.6,211.8 L110.3,211.3 L116.0,210.9 L121.8,210.3 L127.5,209.8 L133.3,209.3 L139.0,208.7 L144.7,208.1 L150.5,207.5 L156.2,206.8 L162.0,206.1 L167.7,205.4 L173.5,204.7 L179.2,203.9 L184.9,203.1 L190.7,202.2 L196.4,201.3 L202.2,200.4 L207.9,199.5 L213.6,198.4 L219.4,197.4 L225.1,196.3 L230.9,195.1 L236.6,193.9 L242.3,192.7 L248.1,191.4 L253.8,190.0 L259.6,188.6 L265.3,187.2" stroke="#46b040" class="cl"/>
<path d="M41.4,206.2 L47.1,206.0 L52.9,205.7 L58.6,205.4 L64.4,205.0 L70.1,204.7 L75.8,204.3 L81.6,203.9 L87.3,203.5 L93.1,203.1 L98.8,202.7 L104.6,202.2 L110.3,201.7 L116.0,201.2 L121.8,200.6 L127.5,200.1 L133.3,199.5 L139.0,198.9 L144.7,198.2 L150.5,197.6 L156.2,196.9 L162.0,196.2 L167.7,195.4 L173.5,194.6 L179.2,193.8 L184.9,192.9 L190.7,192.1 L196.4,191.1 L202.2,190.2 L207.9,189.2 L213.6,188.2 L219.4,187.1 L225.1,186.0 L230.9,184.9 L236.6,183.7 L242.3,182.5 L248.1,181.3 L253.8,180.0 L259.6,178.6 L265.3,177.3" stroke="#3370b8" class="cl"/>
<path d="M41.4,196.3 L47.1,195.9 L52.9,195.5 L58.6,195.1 L64.4,194.7 L70.1,194.3 L75.8,193.9 L81.6,193.5 L87.3,193.1 L93.1,192.7 L98.8,192.3 L104.6,191.8 L110.3,191.4 L116.0,190.9 L121.8,190.4 L127.5,189.9 L133.3,189.4 L139.0,188.8 L144.7,188.2 L150.5,187.6 L156.2,187.0 L162.0,186.4 L167.7,185.7 L173.5,185.0 L179.2,184.2 L184.9,183.4 L190.7,182.6 L196.4,181.7 L202.2,180.8 L207.9,179.9 L213.6,178.9 L219.4,177.9 L225.1,176.8 L230.9,175.6 L236.6,174.5 L242.3,173.2 L248.1,171.9 L253.8,170.6 L259.6,169.2 L265.3,167.7" stroke="#f81010" class="cl"/>
<path d="M28.9,32.3H32.4V220.6H28.9" class="ax"/>
<line x1="28.9" y1="207.15" x2="32.4" y2="207.15" class="ax"/>
<line x1="28.9" y1="193.7" x2="32.4" y2="193.7" class="ax"/>
<line x1="28.9" y1="180.25" x2="32.4" y2="180.25" class="ax"/>
<line x1="28.9" y1="166.8" x2="32.4" y2="166.8" class="ax"/>
<line x1="28.9" y1="153.35" x2="32.4" y2="153.35" class="ax"/>
<line x1="28.9" y1="139.9" x2="32.4" y2="139.9" class="ax"/>
<line x1="28.9" y1="126.45" x2="32.4" y2="126.45" class="ax"/>
<line x1="28.9" y1="113" x2="32.4" y2="113" class="ax"/>
<line x1="28.9" y1="99.55" x2="32.4" y2="99.55" class="ax"/>
<line x1="28.9" y1="86.1" x2="32.4" y2="86.1" class="ax"/>
<line x1="28.9" y1="72.65" x2="32.4" y2="72.65" class="ax"/>
<line x1="28.9" y1="59.2" x2="32.4" y2="59.2" class="ax"/>
<line x1="28.9" y1="45.75" x2="32.4" y2="45.75" class="ax"/>
<path d="M41.4,231.8V228H265.31V231.8" class="ax"/>
<line x1="71.08" y1="228" x2="71.08" y2="231.8" class="ax"/>
<line x1="116.58" y1="228" x2="116.58" y2="231.8" class="ax"/>
<line x1="150.99" y1="228" x2="150.99" y2="231.8" class="ax"/>
<line x1="185.4" y1="228" x2="185.4" y2="231.8" class="ax"/>
<line x1="205.53" y1="228" x2="205.53" y2="231.8" class="ax"/>
<line x1="230.9" y1="228" x2="230.9" y2="231.8" class="ax"/>
<line x1="251.03" y1="228" x2="251.03" y2="231.8" class="ax"/>
<text x="25.3" y="223.5" class="tl" text-anchor="end">0.25</text>
<text x="25.3" y="210.05" class="tl" text-anchor="end">0.50</text>
<text x="25.3" y="196.6" class="tl" text-anchor="end">0.75</text>
<text x="25.3" y="183.15" class="tl" text-anchor="end">1.00</text>
<text x="25.3" y="169.7" class="tl" text-anchor="end">1.25</text>
<text x="25.3" y="156.25" class="tl" text-anchor="end">1.50</text>
<text x="25.3" y="142.8" class="tl" text-anchor="end">1.75</text>
<text x="25.3" y="129.35" class="tl" text-anchor="end">2.00</text>
<text x="25.3" y="115.9" class="tl" text-anchor="end">2.25</text>
<text x="25.3" y="102.45" class="tl" text-anchor="end">2.50</text>
<text x="25.3" y="89" class="tl" text-anchor="end">2.75</text>
<text x="25.3" y="75.55" class="tl" text-anchor="end">3.00</text>
<text x="25.3" y="62.1" class="tl" text-anchor="end">3.25</text>
<text x="25.3" y="48.65" class="tl" text-anchor="end">3.50</text>
<text x="25.3" y="35.2" class="tl" text-anchor="end">3.75</text>
<text x="41.4" y="240.6" class="tl" text-anchor="middle">1yr</text>
<text x="71.08" y="240.6" class="tl" text-anchor="middle">2yr</text>
<text x="116.58" y="240.6" class="tl" text-anchor="middle">5yr</text>
<text x="150.99" y="240.6" class="tl" text-anchor="middle">10yr</text>
<text x="185.4" y="240.6" class="tl" text-anchor="middle">20yr</text>
<text x="230.9" y="240.6" class="tl" text-anchor="middle">50yr</text>
<text x="265.31" y="240.6" class="tl" text-anchor="middle">100yr</text>
<text x="153.5" y="254.4" class="tl2" text-anchor="middle">Return Periods</text>
<text transform="translate(5.6,126.3) rotate(-90)" class="tl2" text-anchor="middle">Return Levels (meters above MHW)</text>
<text x="151.9" y="7.8" class="tt" text-anchor="middle">Storm surges in</text>
<text x="153.5" y="20.9" class="tt" text-anchor="middle">VACA KEY, FLORIDA BAY, FL</text>
<line x1="39.9" y1="35.3" x2="57" y2="35.3" stroke="#46b040" class="ll"/>
<text x="64.3" y="38.8" class="lg">current</text>
<line x1="99.5" y1="35.3" x2="116.6" y2="35.3" stroke="#3370b8" class="ll"/>
<text x="123.9" y="38.8" class="lg">2030</text>
<line x1="159.1" y1="35.3" x2="176.2" y2="35.3" stroke="#f81010" class="ll"/>
<text x="183.5" y="38.8" class="lg">2050</text>
<line x1="40.0" y1="47.4" x2="57.0" y2="47.4" stroke="#46b040" class="ld"/>
<line x1="40.0" y1="50.5" x2="57.0" y2="50.5" stroke="#3370b8" class="ld"/>
<line x1="40.0" y1="53.6" x2="57.0" y2="53.6" stroke="#f81010" class="ld"/>
<text x="64.2" y="53.9" class="lg">} CI from EVA only</text>
</g>
<g transform="translate(0,268)">
<line x1="41.4" y1="24.8" x2="41.4" y2="228" class="gr"/>
<line x1="71.08" y1="24.8" x2="71.08" y2="228" class="gr"/>
<line x1="116.58" y1="24.8" x2="116.58" y2="228" class="gr"/>
<line x1="150.99" y1="24.8" x2="150.99" y2="228" class="gr"/>
<line x1="185.4" y1="24.8" x2="185.4" y2="228" class="gr"/>
<line x1="205.53" y1="24.8" x2="205.53" y2="228" class="gr"/>
<line x1="230.9" y1="24.8" x2="230.9" y2="228" class="gr"/>
<line x1="251.03" y1="24.8" x2="251.03" y2="228" class="gr"/>
<line x1="265.31" y1="24.8" x2="265.31" y2="228" class="gr"/>
<line x1="32.4" y1="220.6" x2="274.6" y2="220.6" class="gr"/>
<line x1="32.4" y1="207.15" x2="274.6" y2="207.15" class="gr"/>
<line x1="32.4" y1="193.7" x2="274.6" y2="193.7" class="gr"/>
<line x1="32.4" y1="180.25" x2="274.6" y2="180.25" class="gr"/>
<line x1="32.4" y1="166.8" x2="274.6" y2="166.8" class="gr"/>
<line x1="32.4" y1="153.35" x2="274.6" y2="153.35" class="gr"/>
<line x1="32.4" y1="139.9" x2="274.6" y2="139.9" class="gr"/>
<line x1="32.4" y1="126.45" x2="274.6" y2="126.45" class="gr"/>
<line x1="32.4" y1="113" x2="274.6" y2="113" class="gr"/>
<line x1="32.4" y1="99.55" x2="274.6" y2="99.55" class="gr"/>
<line x1="32.4" y1="86.1" x2="274.6" y2="86.1" class="gr"/>
<line x1="32.4" y1="72.65" x2="274.6" y2="72.65" class="gr"/>
<line x1="32.4" y1="59.2" x2="274.6" y2="59.2" class="gr"/>
<line x1="32.4" y1="45.75" x2="274.6" y2="45.75" class="gr"/>
<line x1="32.4" y1="32.3" x2="274.6" y2="32.3" class="gr"/>
<path d="M41.4,210.1 L47.1,208.8 L52.9,207.4 L58.6,206.1 L64.4,204.8 L70.1,203.4 L75.8,202.0 L81.6,200.6 L87.3,199.1 L93.1,197.6 L98.8,196.0 L104.6,194.3 L110.3,192.5 L116.0,190.7 L121.8,188.7 L127.5,186.5 L133.3,184.3 L139.0,181.9 L144.7,179.3 L150.5,176.6 L156.2,173.7 L162.0,170.6 L167.7,167.3 L173.5,163.7 L179.2,160.0 L184.9,156.0 L190.7,151.7 L196.4,147.2 L202.2,142.5 L207.9,137.4 L213.6,132.1 L219.4,126.4 L225.1,120.5 L230.9,114.2 L236.6,107.5 L242.3,100.6 L248.1,93.2 L253.8,85.5 L259.6,77.4 L265.3,68.9 L265.3,183.1 L259.6,184.2 L253.8,185.2 L248.1,186.3 L242.3,187.3 L236.6,188.3 L230.9,189.3 L225.1,190.2 L219.4,191.2 L213.6,192.1 L207.9,193.0 L202.2,193.9 L196.4,194.8 L190.7,195.6 L184.9,196.5 L179.2,197.3 L173.5,198.1 L167.7,198.9 L162.0,199.7 L156.2,200.4 L150.5,201.1 L144.7,201.8 L139.0,202.5 L133.3,203.2 L127.5,203.9 L121.8,204.5 L116.0,205.1 L110.3,205.7 L104.6,206.3 L98.8,206.9 L93.1,207.4 L87.3,207.9 L81.6,208.4 L75.8,208.9 L70.1,209.3 L64.4,209.8 L58.6,210.2 L52.9,210.6 L47.1,211.0 L41.4,211.3Z" fill="rgba(80,180,50,0.17)" stroke="none"/>
<path d="M41.4,200.5 L47.1,199.3 L52.9,198.2 L58.6,197.0 L64.4,195.8 L70.1,194.6 L75.8,193.4 L81.6,192.1 L87.3,190.7 L93.1,189.3 L98.8,187.8 L104.6,186.2 L110.3,184.5 L116.0,182.6 L121.8,180.7 L127.5,178.6 L133.3,176.4 L139.0,174.0 L144.7,171.5 L150.5,168.7 L156.2,165.8 L162.0,162.7 L167.7,159.4 L173.5,155.9 L179.2,152.1 L184.9,148.1 L190.7,143.8 L196.4,139.3 L202.2,134.5 L207.9,129.4 L213.6,124.0 L219.4,118.3 L225.1,112.3 L230.9,106.0 L236.6,99.3 L242.3,92.3 L248.1,84.9 L253.8,77.1 L259.6,69.0 L265.3,60.5 L265.3,173.8 L259.6,174.8 L253.8,175.8 L248.1,176.8 L242.3,177.8 L236.6,178.8 L230.9,179.7 L225.1,180.7 L219.4,181.7 L213.6,182.6 L207.9,183.6 L202.2,184.5 L196.4,185.4 L190.7,186.3 L184.9,187.2 L179.2,188.1 L173.5,189.0 L167.7,189.8 L162.0,190.6 L156.2,191.4 L150.5,192.2 L144.7,193.0 L139.0,193.7 L133.3,194.5 L127.5,195.2 L121.8,195.8 L116.0,196.5 L110.3,197.1 L104.6,197.7 L98.8,198.3 L93.1,198.8 L87.3,199.3 L81.6,199.8 L75.8,200.2 L70.1,200.7 L64.4,201.0 L58.6,201.4 L52.9,201.7 L47.1,202.0 L41.4,202.2Z" fill="rgba(60,100,200,0.13)" stroke="none"/>
<path d="M41.4,190.4 L47.1,189.1 L52.9,187.9 L58.6,186.7 L64.4,185.5 L70.1,184.2 L75.8,183.0 L81.6,181.7 L87.3,180.3 L93.1,178.9 L98.8,177.4 L104.6,175.8 L110.3,174.2 L116.0,172.4 L121.8,170.5 L127.5,168.5 L133.3,166.3 L139.0,164.0 L144.7,161.5 L150.5,158.8 L156.2,155.9 L162.0,152.8 L167.7,149.6 L173.5,146.0 L179.2,142.3 L184.9,138.3 L190.7,134.0 L196.4,129.5 L202.2,124.7 L207.9,119.6 L213.6,114.1 L219.4,108.4 L225.1,102.3 L230.9,95.9 L236.6,89.1 L242.3,82.0 L248.1,74.4 L253.8,66.5 L259.6,58.2 L265.3,49.5 L265.3,163.0 L259.6,164.1 L253.8,165.1 L248.1,166.1 L242.3,167.1 L236.6,168.1 L230.9,169.1 L225.1,170.0 L219.4,171.0 L213.6,171.9 L207.9,172.8 L202.2,173.7 L196.4,174.6 L190.7,175.4 L184.9,176.3 L179.2,177.1 L173.5,177.9 L167.7,178.7 L162.0,179.5 L156.2,180.3 L150.5,181.0 L144.7,181.7 L139.0,182.4 L133.3,183.1 L127.5,183.8 L121.8,184.5 L116.0,185.1 L110.3,185.7 L104.6,186.3 L98.8,186.9 L93.1,187.5 L87.3,188.0 L81.6,188.5 L75.8,189.1 L70.1,189.5 L64.4,190.0 L58.6,190.4 L52.9,190.9 L47.1,191.3 L41.4,191.7Z" fill="rgba(240,90,20,0.22)" stroke="none"/>
<path d="M41.4,210.1 L47.1,208.8 L52.9,207.4 L58.6,206.1 L64.4,204.8 L70.1,203.4 L75.8,202.0 L81.6,200.6 L87.3,199.1 L93.1,197.6 L98.8,196.0 L104.6,194.3 L110.3,192.5 L116.0,190.7 L121.8,188.7 L127.5,186.5 L133.3,184.3 L139.0,181.9 L144.7,179.3 L150.5,176.6 L156.2,173.7 L162.0,170.6 L167.7,167.3 L173.5,163.7 L179.2,160.0 L184.9,156.0 L190.7,151.7 L196.4,147.2 L202.2,142.5 L207.9,137.4 L213.6,132.1 L219.4,126.4 L225.1,120.5 L230.9,114.2 L236.6,107.5 L242.3,100.6 L248.1,93.2 L253.8,85.5 L259.6,77.4 L265.3,68.9" stroke="#46b040" class="cd"/>
<path d="M41.4,211.3 L47.1,211.0 L52.9,210.6 L58.6,210.2 L64.4,209.8 L70.1,209.3 L75.8,208.9 L81.6,208.4 L87.3,207.9 L93.1,207.4 L98.8,206.9 L104.6,206.3 L110.3,205.7 L116.0,205.1 L121.8,204.5 L127.5,203.9 L133.3,203.2 L139.0,202.5 L144.7,201.8 L150.5,201.1 L156.2,200.4 L162.0,199.7 L167.7,198.9 L173.5,198.1 L179.2,197.3 L184.9,196.5 L190.7,195.6 L196.4,194.8 L202.2,193.9 L207.9,193.0 L213.6,192.1 L219.4,191.2 L225.1,190.2 L230.9,189.3 L236.6,188.3 L242.3,187.3 L248.1,186.3 L253.8,185.2 L259.6,184.2 L265.3,183.1" stroke="#46b040" class="cd"/>
<path d="M41.4,200.5 L47.1,199.3 L52.9,198.2 L58.6,197.0 L64.4,195.8 L70.1,194.6 L75.8,193.4 L81.6,192.1 L87.3,190.7 L93.1,189.3 L98.8,187.8 L104.6,186.2 L110.3,184.5 L116.0,182.6 L121.8,180.7 L127.5,178.6 L133.3,176.4 L139.0,174.0 L144.7,171.5 L150.5,168.7 L156.2,165.8 L162.0,162.7 L167.7,159.4 L173.5,155.9 L179.2,152.1 L184.9,148.1 L190.7,143.8 L196.4,139.3 L202.2,134.5 L207.9,129.4 L213.6,124.0 L219.4,118.3 L225.1,112.3 L230.9,106.0 L236.6,99.3 L242.3,92.3 L248.1,84.9 L253.8,77.1 L259.6,69.0 L265.3,60.5" stroke="#3370b8" class="cd"/>
<path d="M41.4,202.2 L47.1,202.0 L52.9,201.7 L58.6,201.4 L64.4,201.0 L70.1,200.7 L75.8,200.2 L81.6,199.8 L87.3,199.3 L93.1,198.8 L98.8,198.3 L104.6,197.7 L110.3,197.1 L116.0,196.5 L121.8,195.8 L127.5,195.2 L133.3,194.5 L139.0,193.7 L144.7,193.0 L150.5,192.2 L156.2,191.4 L162.0,190.6 L167.7,189.8 L173.5,189.0 L179.2,188.1 L184.9,187.2 L190.7,186.3 L196.4,185.4 L202.2,184.5 L207.9,183.6 L213.6,182.6 L219.4,181.7 L225.1,180.7 L230.9,179.7 L236.6,178.8 L242.3,177.8 L248.1,176.8 L253.8,175.8 L259.6,174.8 L265.3,173.8" stroke="#3370b8" class="cd"/>
<path d="M41.4,190.4 L47.1,189.1 L52.9,187.9 L58.6,186.7 L64.4,185.5 L70.1,184.2 L75.8,183.0 L81.6,181.7 L87.3,180.3 L93.1,178.9 L98.8,177.4 L104.6,175.8 L110.3,174.2 L116.0,172.4 L121.8,170.5 L127.5,168.5 L133.3,166.3 L139.0,164.0 L144.7,161.5 L150.5,158.8 L156.2,155.9 L162.0,152.8 L167.7,149.6 L173.5,146.0 L179.2,142.3 L184.9,138.3 L190.7,134.0 L196.4,129.5 L202.2,124.7 L207.9,119.6 L213.6,114.1 L219.4,108.4 L225.1,102.3 L230.9,95.9 L236.6,89.1 L242.3,82.0 L248.1,74.4 L253.8,66.5 L259.6,58.2 L265.3,49.5" stroke="#f81010" class="cd"/>
<path d="M41.4,191.7 L47.1,191.3 L52.9,190.9 L58.6,190.4 L64.4,190.0 L70.1,189.5 L75.8,189.1 L81.6,188.5 L87.3,188.0 L93.1,187.5 L98.8,186.9 L104.6,186.3 L110.3,185.7 L116.0,185.1 L121.8,184.5 L127.5,183.8 L133.3,183.1 L139.0,182.4 L144.7,181.7 L150.5,181.0 L156.2,180.3 L162.0,179.5 L167.7,178.7 L173.5,177.9 L179.2,177.1 L184.9,176.3 L190.7,175.4 L196.4,174.6 L202.2,173.7 L207.9,172.8 L213.6,171.9 L219.4,171.0 L225.1,170.0 L230.9,169.1 L236.6,168.1 L242.3,167.1 L248.1,166.1 L253.8,165.1 L259.6,164.1 L265.3,163.0" stroke="#f81010" class="cd"/>
<path d="M41.4,210.9 L47.1,210.2 L52.9,209.6 L58.6,209.0 L64.4,208.4 L70.1,207.7 L75.8,207.1 L81.6,206.4 L87.3,205.7 L93.1,204.9 L98.8,204.1 L104.6,203.3 L110.3,202.4 L116.0,201.4 L121.8,200.4 L127.5,199.3 L133.3,198.1 L139.0,196.8 L144.7,195.5 L150.5,194.0 L156.2,192.5 L162.0,190.8 L167.7,189.1 L173.5,187.2 L179.2,185.2 L184.9,183.0 L190.7,180.7 L196.4,178.3 L202.2,175.7 L207.9,173.0 L213.6,170.1 L219.4,167.1 L225.1,163.8 L230.9,160.4 L236.6,156.8 L242.3,153.0 L248.1,149.1 L253.8,144.9 L259.6,140.5 L265.3,135.9" stroke="#46b040" class="cl"/>
<path d="M41.4,201.7 L47.1,201.1 L52.9,200.5 L58.6,199.8 L64.4,199.2 L70.1,198.6 L75.8,197.9 L81.6,197.3 L87.3,196.5 L93.1,195.8 L98.8,195.0 L104.6,194.2 L110.3,193.3 L116.0,192.3 L121.8,191.3 L127.5,190.2 L133.3,189.0 L139.0,187.8 L144.7,186.4 L150.5,185.0 L156.2,183.4 L162.0,181.8 L167.7,180.0 L173.5,178.1 L179.2,176.1 L184.9,174.0 L190.7,171.7 L196.4,169.3 L202.2,166.7 L207.9,163.9 L213.6,161.0 L219.4,158.0 L225.1,154.7 L230.9,151.3 L236.6,147.7 L242.3,143.9 L248.1,139.9 L253.8,135.7 L259.6,131.3 L265.3,126.7" stroke="#3370b8" class="cl"/>
<path d="M41.4,191.2 L47.1,190.4 L52.9,189.7 L58.6,189.0 L64.4,188.3 L70.1,187.6 L75.8,186.9 L81.6,186.2 L87.3,185.4 L93.1,184.7 L98.8,183.9 L104.6,183.0 L110.3,182.1 L116.0,181.2 L121.8,180.2 L127.5,179.1 L133.3,178.0 L139.0,176.8 L144.7,175.5 L150.5,174.1 L156.2,172.6 L162.0,171.0 L167.7,169.3 L173.5,167.4 L179.2,165.5 L184.9,163.4 L190.7,161.1 L196.4,158.7 L202.2,156.1 L207.9,153.4 L213.6,150.5 L219.4,147.5 L225.1,144.2 L230.9,140.8 L236.6,137.1 L242.3,133.3 L248.1,129.2 L253.8,125.0 L259.6,120.5 L265.3,115.7" stroke="#f81010" class="cl"/>
<path d="M28.9,32.3H32.4V220.6H28.9" class="ax"/>
<line x1="28.9" y1="207.15" x2="32.4" y2="207.15" class="ax"/>
<line x1="28.9" y1="193.7" x2="32.4" y2="193.7" class="ax"/>
<line x1="28.9" y1="180.25" x2="32.4" y2="180.25" class="ax"/>
<line x1="28.9" y1="166.8" x2="32.4" y2="166.8" class="ax"/>
<line x1="28.9" y1="153.35" x2="32.4" y2="153.35" class="ax"/>
<line x1="28.9" y1="139.9" x2="32.4" y2="139.9" class="ax"/>
<line x1="28.9" y1="126.45" x2="32.4" y2="126.45" class="ax"/>
<line x1="28.9" y1="113" x2="32.4" y2="113" class="ax"/>
<line x1="28.9" y1="99.55" x2="32.4" y2="99.55" class="ax"/>
<line x1="28.9" y1="86.1" x2="32.4" y2="86.1" class="ax"/>
<line x1="28.9" y1="72.65" x2="32.4" y2="72.65" class="ax"/>
<line x1="28.9" y1="59.2" x2="32.4" y2="59.2" class="ax"/>
<line x1="28.9" y1="45.75" x2="32.4" y2="45.75" class="ax"/>
<path d="M41.4,231.8V228H265.31V231.8" class="ax"/>
<line x1="71.08" y1="228" x2="71.08" y2="231.8" class="ax"/>
<line x1="116.58" y1="228" x2="116.58" y2="231.8" class="ax"/>
<line x1="150.99" y1="228" x2="150.99" y2="231.8" class="ax"/>
<line x1="185.4" y1="228" x2="185.4" y2="231.8" class="ax"/>
<line x1="205.53" y1="228" x2="205.53" y2="231.8" class="ax"/>
<line x1="230.9" y1="228" x2="230.9" y2="231.8" class="ax"/>
<line x1="251.03" y1="228" x2="251.03" y2="231.8" class="ax"/>
<text x="25.3" y="223.5" class="tl" text-anchor="end">0.25</text>
<text x="25.3" y="210.05" class="tl" text-anchor="end">0.50</text>
<text x="25.3" y="196.6" class="tl" text-anchor="end">0.75</text>
<text x="25.3" y="183.15" class="tl" text-anchor="end">1.00</text>
<text x="25.3" y="169.7" class="tl" text-anchor="end">1.25</text>
<text x="25.3" y="156.25" class="tl" text-anchor="end">1.50</text>
<text x="25.3" y="142.8" class="tl" text-anchor="end">1.75</text>
<text x="25.3" y="129.35" class="tl" text-anchor="end">2.00</text>
<text x="25.3" y="115.9" class="tl" text-anchor="end">2.25</text>
<text x="25.3" y="102.45" class="tl" text-anchor="end">2.50</text>
<text x="25.3" y="89" class="tl" text-anchor="end">2.75</text>
<text x="25.3" y="75.55" class="tl" text-anchor="end">3.00</text>
<text x="25.3" y="62.1" class="tl" text-anchor="end">3.25</text>
<text x="25.3" y="48.65" class="tl" text-anchor="end">3.50</text>
<text x="25.3" y="35.2" class="tl" text-anchor="end">3.75</text>
<text x="41.4" y="240.6" class="tl" text-anchor="middle">1yr</text>
<text x="71.08" y="240.6" class="tl" text-anchor="middle">2yr</text>
<text x="116.58" y="240.6" class="tl" text-anchor="middle">5yr</text>
<text x="150.99" y="240.6" class="tl" text-anchor="middle">10yr</text>
<text x="185.4" y="240.6" class="tl" text-anchor="middle">20yr</text>
<text x="230.9" y="240.6" class="tl" text-anchor="middle">50yr</text>
<text x="265.31" y="240.6" class="tl" text-anchor="middle">100yr</text>
<text x="153.5" y="254.4" class="tl2" text-anchor="middle">Return Periods</text>
<text transform="translate(5.6,126.3) rotate(-90)" class="tl2" text-anchor="middle">Return Levels (meters above MHW)</text>
<text x="151.9" y="7.8" class="tt" text-anchor="middle">Storm surges in</text>
<text x="153.5" y="20.9" class="tt" text-anchor="middle">ROCKPORT, ARANSAS BAY, TX</text>
<line x1="39.9" y1="35.3" x2="57" y2="35.3" stroke="#46b040" class="ll"/>
<text x="64.3" y="38.8" class="lg">current</text>
<line x1="99.5" y1="35.3" x2="116.6" y2="35.3" stroke="#3370b8" class="ll"/>
<text x="123.9" y="38.8" class="lg">2030</text>
<line x1="159.1" y1="35.3" x2="176.2" y2="35.3" stroke="#f81010" class="ll"/>
<text x="183.5" y="38.8" class="lg">2050</text>
<line x1="40.0" y1="47.4" x2="57.0" y2="47.4" stroke="#46b040" class="ld"/>
<line x1="40.0" y1="50.5" x2="57.0" y2="50.5" stroke="#3370b8" class="ld"/>
<line x1="40.0" y1="53.6" x2="57.0" y2="53.6" stroke="#f81010" class="ld"/>
<text x="64.2" y="53.9" class="lg">} CI from EVA only</text>
</g>
<g transform="translate(286.1,268)">
<line x1="41.4" y1="24.8" x2="41.4" y2="228" class="gr"/>
<line x1="71.08" y1="24.8" x2="71.08" y2="228" class="gr"/>
<line x1="116.58" y1="24.8" x2="116.58" y2="228" class="gr"/>
<line x1="150.99" y1="24.8" x2="150.99" y2="228" class="gr"/>
<line x1="185.4" y1="24.8" x2="185.4" y2="228" class="gr"/>
<line x1="205.53" y1="24.8" x2="205.53" y2="228" class="gr"/>
<line x1="230.9" y1="24.8" x2="230.9" y2="228" class="gr"/>
<line x1="251.03" y1="24.8" x2="251.03" y2="228" class="gr"/>
<line x1="265.31" y1="24.8" x2="265.31" y2="228" class="gr"/>
<line x1="32.4" y1="220.6" x2="274.6" y2="220.6" class="gr"/>
<line x1="32.4" y1="207.15" x2="274.6" y2="207.15" class="gr"/>
<line x1="32.4" y1="193.7" x2="274.6" y2="193.7" class="gr"/>
<line x1="32.4" y1="180.25" x2="274.6" y2="180.25" class="gr"/>
<line x1="32.4" y1="166.8" x2="274.6" y2="166.8" class="gr"/>
<line x1="32.4" y1="153.35" x2="274.6" y2="153.35" class="gr"/>
<line x1="32.4" y1="139.9" x2="274.6" y2="139.9" class="gr"/>
<line x1="32.4" y1="126.45" x2="274.6" y2="126.45" class="gr"/>
<line x1="32.4" y1="113" x2="274.6" y2="113" class="gr"/>
<line x1="32.4" y1="99.55" x2="274.6" y2="99.55" class="gr"/>
<line x1="32.4" y1="86.1" x2="274.6" y2="86.1" class="gr"/>
<line x1="32.4" y1="72.65" x2="274.6" y2="72.65" class="gr"/>
<line x1="32.4" y1="59.2" x2="274.6" y2="59.2" class="gr"/>
<line x1="32.4" y1="45.75" x2="274.6" y2="45.75" class="gr"/>
<line x1="32.4" y1="32.3" x2="274.6" y2="32.3" class="gr"/>
<path d="M41.4,191.2 L47.1,190.9 L52.9,190.6 L58.6,190.2 L64.4,189.9 L70.1,189.5 L75.8,189.1 L81.6,188.7 L87.3,188.3 L93.1,187.8 L98.8,187.4 L104.6,186.9 L110.3,186.4 L116.0,185.9 L121.8,185.4 L127.5,184.9 L133.3,184.4 L139.0,183.9 L144.7,183.4 L150.5,182.9 L156.2,182.4 L162.0,181.9 L167.7,181.4 L173.5,180.9 L179.2,180.4 L184.9,179.9 L190.7,179.5 L196.4,179.0 L202.2,178.5 L207.9,178.1 L213.6,177.7 L219.4,177.3 L225.1,176.9 L230.9,176.5 L236.6,176.2 L242.3,175.8 L248.1,175.5 L253.8,175.2 L259.6,175.0 L265.3,174.7 L265.3,185.1 L259.6,185.3 L253.8,185.4 L248.1,185.6 L242.3,185.7 L236.6,185.8 L230.9,186.0 L225.1,186.1 L219.4,186.3 L213.6,186.4 L207.9,186.5 L202.2,186.7 L196.4,186.8 L190.7,187.0 L184.9,187.1 L179.2,187.3 L173.5,187.4 L167.7,187.6 L162.0,187.7 L156.2,187.9 L150.5,188.0 L144.7,188.2 L139.0,188.4 L133.3,188.5 L127.5,188.7 L121.8,188.9 L116.0,189.1 L110.3,189.3 L104.6,189.5 L98.8,189.7 L93.1,189.9 L87.3,190.1 L81.6,190.4 L75.8,190.6 L70.1,190.8 L64.4,191.1 L58.6,191.4 L52.9,191.6 L47.1,191.9 L41.4,192.2Z" fill="rgba(80,180,50,0.17)" stroke="none"/>
<path d="M41.4,183.0 L47.1,182.6 L52.9,182.3 L58.6,181.9 L64.4,181.5 L70.1,181.1 L75.8,180.7 L81.6,180.2 L87.3,179.8 L93.1,179.3 L98.8,178.9 L104.6,178.4 L110.3,177.9 L116.0,177.4 L121.8,176.9 L127.5,176.5 L133.3,176.0 L139.0,175.5 L144.7,175.0 L150.5,174.5 L156.2,174.1 L162.0,173.6 L167.7,173.1 L173.5,172.7 L179.2,172.2 L184.9,171.8 L190.7,171.4 L196.4,171.0 L202.2,170.6 L207.9,170.2 L213.6,169.8 L219.4,169.5 L225.1,169.1 L230.9,168.8 L236.6,168.5 L242.3,168.3 L248.1,168.0 L253.8,167.8 L259.6,167.6 L265.3,167.5 L265.3,176.7 L259.6,176.8 L253.8,176.9 L248.1,177.1 L242.3,177.2 L236.6,177.3 L230.9,177.4 L225.1,177.5 L219.4,177.7 L213.6,177.8 L207.9,177.9 L202.2,178.1 L196.4,178.2 L190.7,178.3 L184.9,178.5 L179.2,178.6 L173.5,178.8 L167.7,179.0 L162.0,179.1 L156.2,179.3 L150.5,179.5 L144.7,179.6 L139.0,179.8 L133.3,180.0 L127.5,180.2 L121.8,180.4 L116.0,180.6 L110.3,180.8 L104.6,181.1 L98.8,181.3 L93.1,181.5 L87.3,181.8 L81.6,182.0 L75.8,182.3 L70.1,182.6 L64.4,182.9 L58.6,183.2 L52.9,183.5 L47.1,183.8 L41.4,184.1Z" fill="rgba(60,100,200,0.13)" stroke="none"/>
<path d="M41.4,174.1 L47.1,173.8 L52.9,173.5 L58.6,173.2 L64.4,172.8 L70.1,172.4 L75.8,172.0 L81.6,171.6 L87.3,171.1 L93.1,170.7 L98.8,170.2 L104.6,169.7 L110.3,169.3 L116.0,168.8 L121.8,168.3 L127.5,167.8 L133.3,167.2 L139.0,166.7 L144.7,166.2 L150.5,165.7 L156.2,165.2 L162.0,164.7 L167.7,164.2 L173.5,163.7 L179.2,163.2 L184.9,162.8 L190.7,162.3 L196.4,161.9 L202.2,161.4 L207.9,161.0 L213.6,160.6 L219.4,160.3 L225.1,159.9 L230.9,159.6 L236.6,159.3 L242.3,159.1 L248.1,158.8 L253.8,158.6 L259.6,158.4 L265.3,158.3 L265.3,167.7 L259.6,167.8 L253.8,167.9 L248.1,168.0 L242.3,168.1 L236.6,168.2 L230.9,168.3 L225.1,168.4 L219.4,168.5 L213.6,168.6 L207.9,168.7 L202.2,168.8 L196.4,169.0 L190.7,169.1 L184.9,169.3 L179.2,169.4 L173.5,169.6 L167.7,169.7 L162.0,169.9 L156.2,170.1 L150.5,170.3 L144.7,170.5 L139.0,170.7 L133.3,170.9 L127.5,171.1 L121.8,171.3 L116.0,171.5 L110.3,171.8 L104.6,172.0 L98.8,172.3 L93.1,172.5 L87.3,172.8 L81.6,173.1 L75.8,173.4 L70.1,173.6 L64.4,173.9 L58.6,174.3 L52.9,174.6 L47.1,174.9 L41.4,175.2Z" fill="rgba(240,90,20,0.22)" stroke="none"/>
<path d="M41.4,191.2 L47.1,190.9 L52.9,190.6 L58.6,190.2 L64.4,189.9 L70.1,189.5 L75.8,189.1 L81.6,188.7 L87.3,188.3 L93.1,187.8 L98.8,187.4 L104.6,186.9 L110.3,186.4 L116.0,185.9 L121.8,185.4 L127.5,184.9 L133.3,184.4 L139.0,183.9 L144.7,183.4 L150.5,182.9 L156.2,182.4 L162.0,181.9 L167.7,181.4 L173.5,180.9 L179.2,180.4 L184.9,179.9 L190.7,179.5 L196.4,179.0 L202.2,178.5 L207.9,178.1 L213.6,177.7 L219.4,177.3 L225.1,176.9 L230.9,176.5 L236.6,176.2 L242.3,175.8 L248.1,175.5 L253.8,175.2 L259.6,175.0 L265.3,174.7" stroke="#46b040" class="cd"/>
<path d="M41.4,192.2 L47.1,191.9 L52.9,191.6 L58.6,191.4 L64.4,191.1 L70.1,190.8 L75.8,190.6 L81.6,190.4 L87.3,190.1 L93.1,189.9 L98.8,189.7 L104.6,189.5 L110.3,189.3 L116.0,189.1 L121.8,188.9 L127.5,188.7 L133.3,188.5 L139.0,188.4 L144.7,188.2 L150.5,188.0 L156.2,187.9 L162.0,187.7 L167.7,187.6 L173.5,187.4 L179.2,187.3 L184.9,187.1 L190.7,187.0 L196.4,186.8 L202.2,186.7 L207.9,186.5 L213.6,186.4 L219.4,186.3 L225.1,186.1 L230.9,186.0 L236.6,185.8 L242.3,185.7 L248.1,185.6 L253.8,185.4 L259.6,185.3 L265.3,185.1" stroke="#46b040" class="cd"/>
<path d="M41.4,183.0 L47.1,182.6 L52.9,182.3 L58.6,181.9 L64.4,181.5 L70.1,181.1 L75.8,180.7 L81.6,180.2 L87.3,179.8 L93.1,179.3 L98.8,178.9 L104.6,178.4 L110.3,177.9 L116.0,177.4 L121.8,176.9 L127.5,176.5 L133.3,176.0 L139.0,175.5 L144.7,175.0 L150.5,174.5 L156.2,174.1 L162.0,173.6 L167.7,173.1 L173.5,172.7 L179.2,172.2 L184.9,171.8 L190.7,171.4 L196.4,171.0 L202.2,170.6 L207.9,170.2 L213.6,169.8 L219.4,169.5 L225.1,169.1 L230.9,168.8 L236.6,168.5 L242.3,168.3 L248.1,168.0 L253.8,167.8 L259.6,167.6 L265.3,167.5" stroke="#3370b8" class="cd"/>
<path d="M41.4,184.1 L47.1,183.8 L52.9,183.5 L58.6,183.2 L64.4,182.9 L70.1,182.6 L75.8,182.3 L81.6,182.0 L87.3,181.8 L93.1,181.5 L98.8,181.3 L104.6,181.1 L110.3,180.8 L116.0,180.6 L121.8,180.4 L127.5,180.2 L133.3,180.0 L139.0,179.8 L144.7,179.6 L150.5,179.5 L156.2,179.3 L162.0,179.1 L167.7,179.0 L173.5,178.8 L179.2,178.6 L184.9,178.5 L190.7,178.3 L196.4,178.2 L202.2,178.1 L207.9,177.9 L213.6,177.8 L219.4,177.7 L225.1,177.5 L230.9,177.4 L236.6,177.3 L242.3,177.2 L248.1,177.1 L253.8,176.9 L259.6,176.8 L265.3,176.7" stroke="#3370b8" class="cd"/>
<path d="M41.4,174.1 L47.1,173.8 L52.9,173.5 L58.6,173.2 L64.4,172.8 L70.1,172.4 L75.8,172.0 L81.6,171.6 L87.3,171.1 L93.1,170.7 L98.8,170.2 L104.6,169.7 L110.3,169.3 L116.0,168.8 L121.8,168.3 L127.5,167.8 L133.3,167.2 L139.0,166.7 L144.7,166.2 L150.5,165.7 L156.2,165.2 L162.0,164.7 L167.7,164.2 L173.5,163.7 L179.2,163.2 L184.9,162.8 L190.7,162.3 L196.4,161.9 L202.2,161.4 L207.9,161.0 L213.6,160.6 L219.4,160.3 L225.1,159.9 L230.9,159.6 L236.6,159.3 L242.3,159.1 L248.1,158.8 L253.8,158.6 L259.6,158.4 L265.3,158.3" stroke="#f81010" class="cd"/>
<path d="M41.4,175.2 L47.1,174.9 L52.9,174.6 L58.6,174.3 L64.4,173.9 L70.1,173.6 L75.8,173.4 L81.6,173.1 L87.3,172.8 L93.1,172.5 L98.8,172.3 L104.6,172.0 L110.3,171.8 L116.0,171.5 L121.8,171.3 L127.5,171.1 L133.3,170.9 L139.0,170.7 L144.7,170.5 L150.5,170.3 L156.2,170.1 L162.0,169.9 L167.7,169.7 L173.5,169.6 L179.2,169.4 L184.9,169.3 L190.7,169.1 L196.4,169.0 L202.2,168.8 L207.9,168.7 L213.6,168.6 L219.4,168.5 L225.1,168.4 L230.9,168.3 L236.6,168.2 L242.3,168.1 L248.1,168.0 L253.8,167.9 L259.6,167.8 L265.3,167.7" stroke="#f81010" class="cd"/>
<path d="M41.4,191.7 L47.1,191.4 L52.9,191.1 L58.6,190.8 L64.4,190.5 L70.1,190.3 L75.8,190.0 L81.6,189.7 L87.3,189.4 L93.1,189.2 L98.8,188.9 L104.6,188.7 L110.3,188.4 L116.0,188.1 L121.8,187.9 L127.5,187.6 L133.3,187.4 L139.0,187.1 L144.7,186.9 L150.5,186.7 L156.2,186.4 L162.0,186.2 L167.7,186.0 L173.5,185.8 L179.2,185.5 L184.9,185.3 L190.7,185.1 L196.4,184.9 L202.2,184.7 L207.9,184.5 L213.6,184.3 L219.4,184.1 L225.1,183.9 L230.9,183.7 L236.6,183.5 L242.3,183.3 L248.1,183.2 L253.8,183.0 L259.6,182.8 L265.3,182.6" stroke="#46b040" class="cl"/>
<path d="M41.4,183.6 L47.1,183.2 L52.9,182.9 L58.6,182.6 L64.4,182.2 L70.1,181.9 L75.8,181.6 L81.6,181.3 L87.3,181.0 L93.1,180.7 L98.8,180.5 L104.6,180.2 L110.3,179.9 L116.0,179.6 L121.8,179.4 L127.5,179.1 L133.3,178.9 L139.0,178.6 L144.7,178.4 L150.5,178.1 L156.2,177.9 L162.0,177.7 L167.7,177.5 L173.5,177.2 L179.2,177.0 L184.9,176.8 L190.7,176.6 L196.4,176.4 L202.2,176.2 L207.9,176.0 L213.6,175.9 L219.4,175.7 L225.1,175.5 L230.9,175.3 L236.6,175.2 L242.3,175.0 L248.1,174.8 L253.8,174.7 L259.6,174.5 L265.3,174.4" stroke="#3370b8" class="cl"/>
<path d="M41.4,174.7 L47.1,174.3 L52.9,174.0 L58.6,173.6 L64.4,173.2 L70.1,172.9 L75.8,172.6 L81.6,172.2 L87.3,171.9 L93.1,171.6 L98.8,171.3 L104.6,171.0 L110.3,170.7 L116.0,170.4 L121.8,170.2 L127.5,169.9 L133.3,169.6 L139.0,169.4 L144.7,169.1 L150.5,168.9 L156.2,168.7 L162.0,168.4 L167.7,168.2 L173.5,168.0 L179.2,167.8 L184.9,167.6 L190.7,167.4 L196.4,167.2 L202.2,167.0 L207.9,166.8 L213.6,166.7 L219.4,166.5 L225.1,166.3 L230.9,166.2 L236.6,166.0 L242.3,165.8 L248.1,165.7 L253.8,165.6 L259.6,165.4 L265.3,165.3" stroke="#f81010" class="cl"/>
<path d="M28.9,32.3H32.4V220.6H28.9" class="ax"/>
<line x1="28.9" y1="207.15" x2="32.4" y2="207.15" class="ax"/>
<line x1="28.9" y1="193.7" x2="32.4" y2="193.7" class="ax"/>
<line x1="28.9" y1="180.25" x2="32.4" y2="180.25" class="ax"/>
<line x1="28.9" y1="166.8" x2="32.4" y2="166.8" class="ax"/>
<line x1="28.9" y1="153.35" x2="32.4" y2="153.35" class="ax"/>
<line x1="28.9" y1="139.9" x2="32.4" y2="139.9" class="ax"/>
<line x1="28.9" y1="126.45" x2="32.4" y2="126.45" class="ax"/>
<line x1="28.9" y1="113" x2="32.4" y2="113" class="ax"/>
<line x1="28.9" y1="99.55" x2="32.4" y2="99.55" class="ax"/>
<line x1="28.9" y1="86.1" x2="32.4" y2="86.1" class="ax"/>
<line x1="28.9" y1="72.65" x2="32.4" y2="72.65" class="ax"/>
<line x1="28.9" y1="59.2" x2="32.4" y2="59.2" class="ax"/>
<line x1="28.9" y1="45.75" x2="32.4" y2="45.75" class="ax"/>
<path d="M41.4,231.8V228H265.31V231.8" class="ax"/>
<line x1="71.08" y1="228" x2="71.08" y2="231.8" class="ax"/>
<line x1="116.58" y1="228" x2="116.58" y2="231.8" class="ax"/>
<line x1="150.99" y1="228" x2="150.99" y2="231.8" class="ax"/>
<line x1="185.4" y1="228" x2="185.4" y2="231.8" class="ax"/>
<line x1="205.53" y1="228" x2="205.53" y2="231.8" class="ax"/>
<line x1="230.9" y1="228" x2="230.9" y2="231.8" class="ax"/>
<line x1="251.03" y1="228" x2="251.03" y2="231.8" class="ax"/>
<text x="25.3" y="223.5" class="tl" text-anchor="end">0.25</text>
<text x="25.3" y="210.05" class="tl" text-anchor="end">0.50</text>
<text x="25.3" y="196.6" class="tl" text-anchor="end">0.75</text>
<text x="25.3" y="183.15" class="tl" text-anchor="end">1.00</text>
<text x="25.3" y="169.7" class="tl" text-anchor="end">1.25</text>
<text x="25.3" y="156.25" class="tl" text-anchor="end">1.50</text>
<text x="25.3" y="142.8" class="tl" text-anchor="end">1.75</text>
<text x="25.3" y="129.35" class="tl" text-anchor="end">2.00</text>
<text x="25.3" y="115.9" class="tl" text-anchor="end">2.25</text>
<text x="25.3" y="102.45" class="tl" text-anchor="end">2.50</text>
<text x="25.3" y="89" class="tl" text-anchor="end">2.75</text>
<text x="25.3" y="75.55" class="tl" text-anchor="end">3.00</text>
<text x="25.3" y="62.1" class="tl" text-anchor="end">3.25</text>
<text x="25.3" y="48.65" class="tl" text-anchor="end">3.50</text>
<text x="25.3" y="35.2" class="tl" text-anchor="end">3.75</text>
<text x="41.4" y="240.6" class="tl" text-anchor="middle">1yr</text>
<text x="71.08" y="240.6" class="tl" text-anchor="middle">2yr</text>
<text x="116.58" y="240.6" class="tl" text-anchor="middle">5yr</text>
<text x="150.99" y="240.6" class="tl" text-anchor="middle">10yr</text>
<text x="185.4" y="240.6" class="tl" text-anchor="middle">20yr</text>
<text x="230.9" y="240.6" class="tl" text-anchor="middle">50yr</text>
<text x="265.31" y="240.6" class="tl" text-anchor="middle">100yr</text>
<text x="153.5" y="254.4" class="tl2" text-anchor="middle">Return Periods</text>
<text transform="translate(5.6,126.3) rotate(-90)" class="tl2" text-anchor="middle">Return Levels (meters above MHW)</text>
<text x="151.9" y="7.8" class="tt" text-anchor="middle">Storm surges in</text>
<text x="153.5" y="20.9" class="tt" text-anchor="middle">LA JOLLA, PACIFIC OCEAN, CA</text>
<line x1="39.9" y1="35.3" x2="57" y2="35.3" stroke="#46b040" class="ll"/>
<text x="64.3" y="38.8" class="lg">current</text>
<line x1="99.5" y1="35.3" x2="116.6" y2="35.3" stroke="#3370b8" class="ll"/>
<text x="123.9" y="38.8" class="lg">2030</text>
<line x1="159.1" y1="35.3" x2="176.2" y2="35.3" stroke="#f81010" class="ll"/>
<text x="183.5" y="38.8" class="lg">2050</text>
<line x1="40.0" y1="47.4" x2="57.0" y2="47.4" stroke="#46b040" class="ld"/>
<line x1="40.0" y1="50.5" x2="57.0" y2="50.5" stroke="#3370b8" class="ld"/>
<line x1="40.0" y1="53.6" x2="57.0" y2="53.6" stroke="#f81010" class="ld"/>
<text x="64.2" y="53.9" class="lg">} CI from EVA only</text>
</g>
<g transform="translate(571.9,268)">
<line x1="41.4" y1="24.8" x2="41.4" y2="228" class="gr"/>
<line x1="71.08" y1="24.8" x2="71.08" y2="228" class="gr"/>
<line x1="116.58" y1="24.8" x2="116.58" y2="228" class="gr"/>
<line x1="150.99" y1="24.8" x2="150.99" y2="228" class="gr"/>
<line x1="185.4" y1="24.8" x2="185.4" y2="228" class="gr"/>
<line x1="205.53" y1="24.8" x2="205.53" y2="228" class="gr"/>
<line x1="230.9" y1="24.8" x2="230.9" y2="228" class="gr"/>
<line x1="251.03" y1="24.8" x2="251.03" y2="228" class="gr"/>
<line x1="265.31" y1="24.8" x2="265.31" y2="228" class="gr"/>
<line x1="32.4" y1="220.6" x2="274.6" y2="220.6" class="gr"/>
<line x1="32.4" y1="207.15" x2="274.6" y2="207.15" class="gr"/>
<line x1="32.4" y1="193.7" x2="274.6" y2="193.7" class="gr"/>
<line x1="32.4" y1="180.25" x2="274.6" y2="180.25" class="gr"/>
<line x1="32.4" y1="166.8" x2="274.6" y2="166.8" class="gr"/>
<line x1="32.4" y1="153.35" x2="274.6" y2="153.35" class="gr"/>
<line x1="32.4" y1="139.9" x2="274.6" y2="139.9" class="gr"/>
<line x1="32.4" y1="126.45" x2="274.6" y2="126.45" class="gr"/>
<line x1="32.4" y1="113" x2="274.6" y2="113" class="gr"/>
<line x1="32.4" y1="99.55" x2="274.6" y2="99.55" class="gr"/>
<line x1="32.4" y1="86.1" x2="274.6" y2="86.1" class="gr"/>
<line x1="32.4" y1="72.65" x2="274.6" y2="72.65" class="gr"/>
<line x1="32.4" y1="59.2" x2="274.6" y2="59.2" class="gr"/>
<line x1="32.4" y1="45.75" x2="274.6" y2="45.75" class="gr"/>
<line x1="32.4" y1="32.3" x2="274.6" y2="32.3" class="gr"/>
<path d="M41.4,172.2 L47.1,171.5 L52.9,170.8 L58.6,170.0 L64.4,169.2 L70.1,168.4 L75.8,167.6 L81.6,166.8 L87.3,165.9 L93.1,165.1 L98.8,164.2 L104.6,163.3 L110.3,162.4 L116.0,161.5 L121.8,160.5 L127.5,159.6 L133.3,158.7 L139.0,157.7 L144.7,156.8 L150.5,155.9 L156.2,154.9 L162.0,154.0 L167.7,153.1 L173.5,152.1 L179.2,151.2 L184.9,150.3 L190.7,149.5 L196.4,148.6 L202.2,147.7 L207.9,146.9 L213.6,146.1 L219.4,145.3 L225.1,144.5 L230.9,143.8 L236.6,143.0 L242.3,142.3 L248.1,141.7 L253.8,141.0 L259.6,140.4 L265.3,139.9 L265.3,159.2 L259.6,159.4 L253.8,159.6 L248.1,159.8 L242.3,160.0 L236.6,160.2 L230.9,160.4 L225.1,160.6 L219.4,160.8 L213.6,161.0 L207.9,161.2 L202.2,161.4 L196.4,161.6 L190.7,161.9 L184.9,162.1 L179.2,162.4 L173.5,162.7 L167.7,162.9 L162.0,163.2 L156.2,163.6 L150.5,163.9 L144.7,164.3 L139.0,164.6 L133.3,165.0 L127.5,165.5 L121.8,165.9 L116.0,166.4 L110.3,166.9 L104.6,167.5 L98.8,168.0 L93.1,168.6 L87.3,169.2 L81.6,169.9 L75.8,170.6 L70.1,171.4 L64.4,172.1 L58.6,172.9 L52.9,173.8 L47.1,174.7 L41.4,175.6Z" fill="rgba(80,180,50,0.17)" stroke="none"/>
<path d="M41.4,172.4 L47.1,171.7 L52.9,171.0 L58.6,170.3 L64.4,169.5 L70.1,168.7 L75.8,167.9 L81.6,167.0 L87.3,166.2 L93.1,165.3 L98.8,164.4 L104.6,163.5 L110.3,162.6 L116.0,161.6 L121.8,160.7 L127.5,159.8 L133.3,158.8 L139.0,157.9 L144.7,156.9 L150.5,156.0 L156.2,155.0 L162.0,154.1 L167.7,153.2 L173.5,152.3 L179.2,151.3 L184.9,150.4 L190.7,149.5 L196.4,148.7 L202.2,147.8 L207.9,147.0 L213.6,146.1 L219.4,145.3 L225.1,144.6 L230.9,143.8 L236.6,143.1 L242.3,142.4 L248.1,141.7 L253.8,141.1 L259.6,140.5 L265.3,140.0 L265.3,159.3 L259.6,159.5 L253.8,159.7 L248.1,159.9 L242.3,160.1 L236.6,160.3 L230.9,160.5 L225.1,160.7 L219.4,160.9 L213.6,161.1 L207.9,161.3 L202.2,161.5 L196.4,161.7 L190.7,162.0 L184.9,162.2 L179.2,162.5 L173.5,162.8 L167.7,163.1 L162.0,163.4 L156.2,163.7 L150.5,164.0 L144.7,164.4 L139.0,164.8 L133.3,165.2 L127.5,165.6 L121.8,166.1 L116.0,166.6 L110.3,167.1 L104.6,167.6 L98.8,168.2 L93.1,168.8 L87.3,169.4 L81.6,170.1 L75.8,170.8 L70.1,171.6 L64.4,172.3 L58.6,173.2 L52.9,174.0 L47.1,174.9 L41.4,175.9Z" fill="rgba(60,100,200,0.13)" stroke="none"/>
<path d="M41.4,167.6 L47.1,167.0 L52.9,166.4 L58.6,165.7 L64.4,165.0 L70.1,164.2 L75.8,163.4 L81.6,162.7 L87.3,161.8 L93.1,161.0 L98.8,160.1 L104.6,159.3 L110.3,158.4 L116.0,157.5 L121.8,156.6 L127.5,155.6 L133.3,154.7 L139.0,153.8 L144.7,152.8 L150.5,151.9 L156.2,150.9 L162.0,150.0 L167.7,149.1 L173.5,148.1 L179.2,147.2 L184.9,146.3 L190.7,145.4 L196.4,144.5 L202.2,143.6 L207.9,142.7 L213.6,141.9 L219.4,141.0 L225.1,140.2 L230.9,139.5 L236.6,138.7 L242.3,138.0 L248.1,137.3 L253.8,136.6 L259.6,136.0 L265.3,135.4 L265.3,154.5 L259.6,154.8 L253.8,155.1 L248.1,155.4 L242.3,155.6 L236.6,155.9 L230.9,156.1 L225.1,156.4 L219.4,156.7 L213.6,156.9 L207.9,157.2 L202.2,157.4 L196.4,157.7 L190.7,158.0 L184.9,158.3 L179.2,158.6 L173.5,158.9 L167.7,159.2 L162.0,159.5 L156.2,159.9 L150.5,160.2 L144.7,160.6 L139.0,161.0 L133.3,161.4 L127.5,161.8 L121.8,162.3 L116.0,162.8 L110.3,163.3 L104.6,163.8 L98.8,164.3 L93.1,164.9 L87.3,165.5 L81.6,166.1 L75.8,166.8 L70.1,167.4 L64.4,168.1 L58.6,168.9 L52.9,169.7 L47.1,170.5 L41.4,171.4Z" fill="rgba(240,90,20,0.22)" stroke="none"/>
<path d="M41.4,172.2 L47.1,171.5 L52.9,170.8 L58.6,170.0 L64.4,169.2 L70.1,168.4 L75.8,167.6 L81.6,166.8 L87.3,165.9 L93.1,165.1 L98.8,164.2 L104.6,163.3 L110.3,162.4 L116.0,161.5 L121.8,160.5 L127.5,159.6 L133.3,158.7 L139.0,157.7 L144.7,156.8 L150.5,155.9 L156.2,154.9 L162.0,154.0 L167.7,153.1 L173.5,152.1 L179.2,151.2 L184.9,150.3 L190.7,149.5 L196.4,148.6 L202.2,147.7 L207.9,146.9 L213.6,146.1 L219.4,145.3 L225.1,144.5 L230.9,143.8 L236.6,143.0 L242.3,142.3 L248.1,141.7 L253.8,141.0 L259.6,140.4 L265.3,139.9" stroke="#46b040" class="cd"/>
<path d="M41.4,175.6 L47.1,174.7 L52.9,173.8 L58.6,172.9 L64.4,172.1 L70.1,171.4 L75.8,170.6 L81.6,169.9 L87.3,169.2 L93.1,168.6 L98.8,168.0 L104.6,167.5 L110.3,166.9 L116.0,166.4 L121.8,165.9 L127.5,165.5 L133.3,165.0 L139.0,164.6 L144.7,164.3 L150.5,163.9 L156.2,163.6 L162.0,163.2 L167.7,162.9 L173.5,162.7 L179.2,162.4 L184.9,162.1 L190.7,161.9 L196.4,161.6 L202.2,161.4 L207.9,161.2 L213.6,161.0 L219.4,160.8 L225.1,160.6 L230.9,160.4 L236.6,160.2 L242.3,160.0 L248.1,159.8 L253.8,159.6 L259.6,159.4 L265.3,159.2" stroke="#46b040" class="cd"/>
<path d="M41.4,172.4 L47.1,171.7 L52.9,171.0 L58.6,170.3 L64.4,169.5 L70.1,168.7 L75.8,167.9 L81.6,167.0 L87.3,166.2 L93.1,165.3 L98.8,164.4 L104.6,163.5 L110.3,162.6 L116.0,161.6 L121.8,160.7 L127.5,159.8 L133.3,158.8 L139.0,157.9 L144.7,156.9 L150.5,156.0 L156.2,155.0 L162.0,154.1 L167.7,153.2 L173.5,152.3 L179.2,151.3 L184.9,150.4 L190.7,149.5 L196.4,148.7 L202.2,147.8 L207.9,147.0 L213.6,146.1 L219.4,145.3 L225.1,144.6 L230.9,143.8 L236.6,143.1 L242.3,142.4 L248.1,141.7 L253.8,141.1 L259.6,140.5 L265.3,140.0" stroke="#3370b8" class="cd"/>
<path d="M41.4,175.9 L47.1,174.9 L52.9,174.0 L58.6,173.2 L64.4,172.3 L70.1,171.6 L75.8,170.8 L81.6,170.1 L87.3,169.4 L93.1,168.8 L98.8,168.2 L104.6,167.6 L110.3,167.1 L116.0,166.6 L121.8,166.1 L127.5,165.6 L133.3,165.2 L139.0,164.8 L144.7,164.4 L150.5,164.0 L156.2,163.7 L162.0,163.4 L167.7,163.1 L173.5,162.8 L179.2,162.5 L184.9,162.2 L190.7,162.0 L196.4,161.7 L202.2,161.5 L207.9,161.3 L213.6,161.1 L219.4,160.9 L225.1,160.7 L230.9,160.5 L236.6,160.3 L242.3,160.1 L248.1,159.9 L253.8,159.7 L259.6,159.5 L265.3,159.3" stroke="#3370b8" class="cd"/>
<path d="M41.4,167.6 L47.1,167.0 L52.9,166.4 L58.6,165.7 L64.4,165.0 L70.1,164.2 L75.8,163.4 L81.6,162.7 L87.3,161.8 L93.1,161.0 L98.8,160.1 L104.6,159.3 L110.3,158.4 L116.0,157.5 L121.8,156.6 L127.5,155.6 L133.3,154.7 L139.0,153.8 L144.7,152.8 L150.5,151.9 L156.2,150.9 L162.0,150.0 L167.7,149.1 L173.5,148.1 L179.2,147.2 L184.9,146.3 L190.7,145.4 L196.4,144.5 L202.2,143.6 L207.9,142.7 L213.6,141.9 L219.4,141.0 L225.1,140.2 L230.9,139.5 L236.6,138.7 L242.3,138.0 L248.1,137.3 L253.8,136.6 L259.6,136.0 L265.3,135.4" stroke="#f81010" class="cd"/>
<path d="M41.4,171.4 L47.1,170.5 L52.9,169.7 L58.6,168.9 L64.4,168.1 L70.1,167.4 L75.8,166.8 L81.6,166.1 L87.3,165.5 L93.1,164.9 L98.8,164.3 L104.6,163.8 L110.3,163.3 L116.0,162.8 L121.8,162.3 L127.5,161.8 L133.3,161.4 L139.0,161.0 L144.7,160.6 L150.5,160.2 L156.2,159.9 L162.0,159.5 L167.7,159.2 L173.5,158.9 L179.2,158.6 L184.9,158.3 L190.7,158.0 L196.4,157.7 L202.2,157.4 L207.9,157.2 L213.6,156.9 L219.4,156.7 L225.1,156.4 L230.9,156.1 L236.6,155.9 L242.3,155.6 L248.1,155.4 L253.8,155.1 L259.6,154.8 L265.3,154.5" stroke="#f81010" class="cd"/>
<path d="M41.4,173.4 L47.1,172.5 L52.9,171.7 L58.6,170.9 L64.4,170.1 L70.1,169.3 L75.8,168.6 L81.6,167.9 L87.3,167.3 L93.1,166.6 L98.8,166.0 L104.6,165.4 L110.3,164.8 L116.0,164.3 L121.8,163.7 L127.5,163.2 L133.3,162.7 L139.0,162.3 L144.7,161.8 L150.5,161.4 L156.2,160.9 L162.0,160.5 L167.7,160.1 L173.5,159.8 L179.2,159.4 L184.9,159.1 L190.7,158.7 L196.4,158.4 L202.2,158.1 L207.9,157.8 L213.6,157.5 L219.4,157.2 L225.1,156.9 L230.9,156.6 L236.6,156.3 L242.3,156.0 L248.1,155.8 L253.8,155.5 L259.6,155.3 L265.3,155.0" stroke="#46b040" class="cl"/>
<path d="M41.4,173.9 L47.1,173.0 L52.9,172.2 L58.6,171.4 L64.4,170.6 L70.1,169.9 L75.8,169.2 L81.6,168.5 L87.3,167.8 L93.1,167.1 L98.8,166.5 L104.6,165.9 L110.3,165.3 L116.0,164.7 L121.8,164.2 L127.5,163.7 L133.3,163.2 L139.0,162.7 L144.7,162.2 L150.5,161.8 L156.2,161.3 L162.0,160.9 L167.7,160.5 L173.5,160.1 L179.2,159.7 L184.9,159.4 L190.7,159.0 L196.4,158.7 L202.2,158.4 L207.9,158.0 L213.6,157.7 L219.4,157.4 L225.1,157.1 L230.9,156.9 L236.6,156.6 L242.3,156.3 L248.1,156.0 L253.8,155.8 L259.6,155.5 L265.3,155.3" stroke="#3370b8" class="cl"/>
<path d="M41.4,170.1 L47.1,169.2 L52.9,168.4 L58.6,167.6 L64.4,166.8 L70.1,166.0 L75.8,165.2 L81.6,164.5 L87.3,163.8 L93.1,163.1 L98.8,162.5 L104.6,161.8 L110.3,161.2 L116.0,160.6 L121.8,160.0 L127.5,159.5 L133.3,159.0 L139.0,158.4 L144.7,157.9 L150.5,157.4 L156.2,157.0 L162.0,156.5 L167.7,156.1 L173.5,155.7 L179.2,155.3 L184.9,154.9 L190.7,154.5 L196.4,154.2 L202.2,153.8 L207.9,153.5 L213.6,153.2 L219.4,152.9 L225.1,152.6 L230.9,152.3 L236.6,152.1 L242.3,151.8 L248.1,151.6 L253.8,151.3 L259.6,151.1 L265.3,150.9" stroke="#f81010" class="cl"/>
<path d="M28.9,32.3H32.4V220.6H28.9" class="ax"/>
<line x1="28.9" y1="207.15" x2="32.4" y2="207.15" class="ax"/>
<line x1="28.9" y1="193.7" x2="32.4" y2="193.7" class="ax"/>
<line x1="28.9" y1="180.25" x2="32.4" y2="180.25" class="ax"/>
<line x1="28.9" y1="166.8" x2="32.4" y2="166.8" class="ax"/>
<line x1="28.9" y1="153.35" x2="32.4" y2="153.35" class="ax"/>
<line x1="28.9" y1="139.9" x2="32.4" y2="139.9" class="ax"/>
<line x1="28.9" y1="126.45" x2="32.4" y2="126.45" class="ax"/>
<line x1="28.9" y1="113" x2="32.4" y2="113" class="ax"/>
<line x1="28.9" y1="99.55" x2="32.4" y2="99.55" class="ax"/>
<line x1="28.9" y1="86.1" x2="32.4" y2="86.1" class="ax"/>
<line x1="28.9" y1="72.65" x2="32.4" y2="72.65" class="ax"/>
<line x1="28.9" y1="59.2" x2="32.4" y2="59.2" class="ax"/>
<line x1="28.9" y1="45.75" x2="32.4" y2="45.75" class="ax"/>
<path d="M41.4,231.8V228H265.31V231.8" class="ax"/>
<line x1="71.08" y1="228" x2="71.08" y2="231.8" class="ax"/>
<line x1="116.58" y1="228" x2="116.58" y2="231.8" class="ax"/>
<line x1="150.99" y1="228" x2="150.99" y2="231.8" class="ax"/>
<line x1="185.4" y1="228" x2="185.4" y2="231.8" class="ax"/>
<line x1="205.53" y1="228" x2="205.53" y2="231.8" class="ax"/>
<line x1="230.9" y1="228" x2="230.9" y2="231.8" class="ax"/>
<line x1="251.03" y1="228" x2="251.03" y2="231.8" class="ax"/>
<text x="25.3" y="223.5" class="tl" text-anchor="end">0.25</text>
<text x="25.3" y="210.05" class="tl" text-anchor="end">0.50</text>
<text x="25.3" y="196.6" class="tl" text-anchor="end">0.75</text>
<text x="25.3" y="183.15" class="tl" text-anchor="end">1.00</text>
<text x="25.3" y="169.7" class="tl" text-anchor="end">1.25</text>
<text x="25.3" y="156.25" class="tl" text-anchor="end">1.50</text>
<text x="25.3" y="142.8" class="tl" text-anchor="end">1.75</text>
<text x="25.3" y="129.35" class="tl" text-anchor="end">2.00</text>
<text x="25.3" y="115.9" class="tl" text-anchor="end">2.25</text>
<text x="25.3" y="102.45" class="tl" text-anchor="end">2.50</text>
<text x="25.3" y="89" class="tl" text-anchor="end">2.75</text>
<text x="25.3" y="75.55" class="tl" text-anchor="end">3.00</text>
<text x="25.3" y="62.1" class="tl" text-anchor="end">3.25</text>
<text x="25.3" y="48.65" class="tl" text-anchor="end">3.50</text>
<text x="25.3" y="35.2" class="tl" text-anchor="end">3.75</text>
<text x="41.4" y="240.6" class="tl" text-anchor="middle">1yr</text>
<text x="71.08" y="240.6" class="tl" text-anchor="middle">2yr</text>
<text x="116.58" y="240.6" class="tl" text-anchor="middle">5yr</text>
<text x="150.99" y="240.6" class="tl" text-anchor="middle">10yr</text>
<text x="185.4" y="240.6" class="tl" text-anchor="middle">20yr</text>
<text x="230.9" y="240.6" class="tl" text-anchor="middle">50yr</text>
<text x="265.31" y="240.6" class="tl" text-anchor="middle">100yr</text>
<text x="153.5" y="254.4" class="tl2" text-anchor="middle">Return Periods</text>
<text transform="translate(5.6,126.3) rotate(-90)" class="tl2" text-anchor="middle">Return Levels (meters above MHW)</text>
<text x="151.9" y="7.8" class="tt" text-anchor="middle">Storm surges in</text>
<text x="153.5" y="20.9" class="tt" text-anchor="middle">NEAH BAY, STRAIT OF JUAN DE FUCA, WA</text>
<line x1="39.9" y1="35.3" x2="57" y2="35.3" stroke="#46b040" class="ll"/>
<text x="64.3" y="38.8" class="lg">current</text>
<line x1="99.5" y1="35.3" x2="116.6" y2="35.3" stroke="#3370b8" class="ll"/>
<text x="123.9" y="38.8" class="lg">2030</text>
<line x1="159.1" y1="35.3" x2="176.2" y2="35.3" stroke="#f81010" class="ll"/>
<text x="183.5" y="38.8" class="lg">2050</text>
<line x1="40.0" y1="47.4" x2="57.0" y2="47.4" stroke="#46b040" class="ld"/>
<line x1="40.0" y1="50.5" x2="57.0" y2="50.5" stroke="#3370b8" class="ld"/>
<line x1="40.0" y1="53.6" x2="57.0" y2="53.6" stroke="#f81010" class="ld"/>
<text x="64.2" y="53.9" class="lg">} CI from EVA only</text>
</g>
</svg>
</body></html>
